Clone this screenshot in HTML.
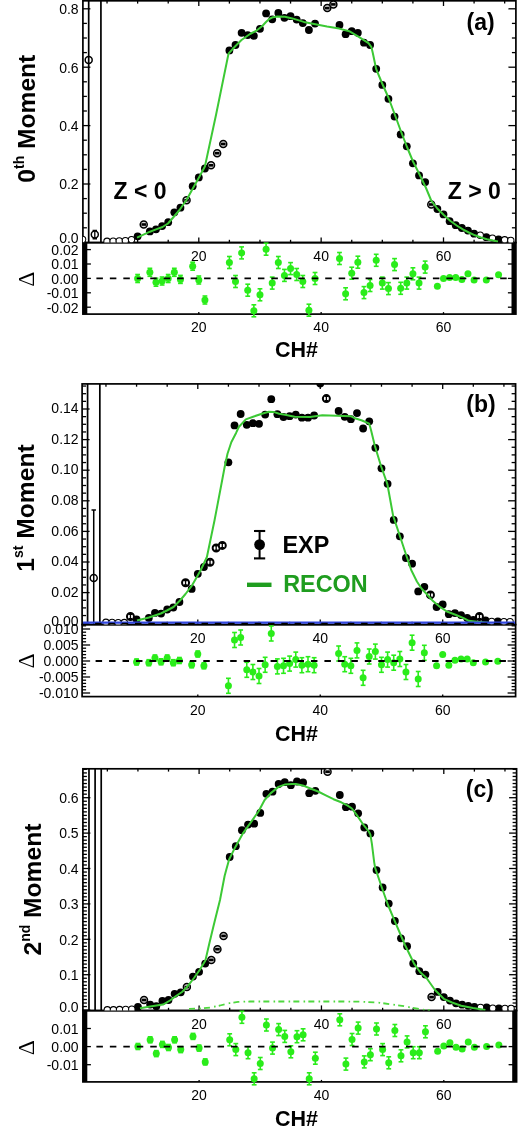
<!DOCTYPE html>
<html><head><meta charset="utf-8"><title>Moments</title>
<style>html,body{margin:0;padding:0;background:#fff;width:520px;height:1128px;overflow:hidden}svg{display:block}</style>
</head><body>
<svg width="520" height="1128" viewBox="0 0 520 1128">
<rect width="520" height="1128" fill="#fff"/>
<defs>
<clipPath id="cA"><rect x="82.9" y="0.8" width="433" height="241.8"/></clipPath>
<clipPath id="cB"><rect x="82.1" y="383.9" width="433.5" height="240.7"/></clipPath>
<clipPath id="cC"><rect x="82.9" y="768.8" width="433.7" height="241.8"/></clipPath>
</defs>
<line x1="107.04" y1="0.8" x2="107.04" y2="3.6" stroke="#000" stroke-width="1.3" />
<line x1="107.04" y1="242.6" x2="107.04" y2="239.8" stroke="#000" stroke-width="1.3" />
<line x1="137.62" y1="0.8" x2="137.62" y2="3.6" stroke="#000" stroke-width="1.3" />
<line x1="137.62" y1="242.6" x2="137.62" y2="239.8" stroke="#000" stroke-width="1.3" />
<line x1="168.21" y1="0.8" x2="168.21" y2="3.6" stroke="#000" stroke-width="1.3" />
<line x1="168.21" y1="242.6" x2="168.21" y2="239.8" stroke="#000" stroke-width="1.3" />
<line x1="198.8" y1="0.8" x2="198.8" y2="6" stroke="#000" stroke-width="1.3" />
<line x1="198.8" y1="242.6" x2="198.8" y2="237.4" stroke="#000" stroke-width="1.3" />
<line x1="198.8" y1="314.1" x2="198.8" y2="312.1" stroke="#000" stroke-width="1.3" />
<line x1="229.39" y1="0.8" x2="229.39" y2="3.6" stroke="#000" stroke-width="1.3" />
<line x1="229.39" y1="242.6" x2="229.39" y2="239.8" stroke="#000" stroke-width="1.3" />
<line x1="259.97" y1="0.8" x2="259.97" y2="3.6" stroke="#000" stroke-width="1.3" />
<line x1="259.97" y1="242.6" x2="259.97" y2="239.8" stroke="#000" stroke-width="1.3" />
<line x1="290.56" y1="0.8" x2="290.56" y2="3.6" stroke="#000" stroke-width="1.3" />
<line x1="290.56" y1="242.6" x2="290.56" y2="239.8" stroke="#000" stroke-width="1.3" />
<line x1="321.15" y1="0.8" x2="321.15" y2="6" stroke="#000" stroke-width="1.3" />
<line x1="321.15" y1="242.6" x2="321.15" y2="237.4" stroke="#000" stroke-width="1.3" />
<line x1="321.15" y1="314.1" x2="321.15" y2="312.1" stroke="#000" stroke-width="1.3" />
<line x1="351.74" y1="0.8" x2="351.74" y2="3.6" stroke="#000" stroke-width="1.3" />
<line x1="351.74" y1="242.6" x2="351.74" y2="239.8" stroke="#000" stroke-width="1.3" />
<line x1="382.32" y1="0.8" x2="382.32" y2="3.6" stroke="#000" stroke-width="1.3" />
<line x1="382.32" y1="242.6" x2="382.32" y2="239.8" stroke="#000" stroke-width="1.3" />
<line x1="412.91" y1="0.8" x2="412.91" y2="3.6" stroke="#000" stroke-width="1.3" />
<line x1="412.91" y1="242.6" x2="412.91" y2="239.8" stroke="#000" stroke-width="1.3" />
<line x1="443.5" y1="0.8" x2="443.5" y2="6" stroke="#000" stroke-width="1.3" />
<line x1="443.5" y1="242.6" x2="443.5" y2="237.4" stroke="#000" stroke-width="1.3" />
<line x1="443.5" y1="314.1" x2="443.5" y2="312.1" stroke="#000" stroke-width="1.3" />
<line x1="474.09" y1="0.8" x2="474.09" y2="3.6" stroke="#000" stroke-width="1.3" />
<line x1="474.09" y1="242.6" x2="474.09" y2="239.8" stroke="#000" stroke-width="1.3" />
<line x1="504.67" y1="0.8" x2="504.67" y2="3.6" stroke="#000" stroke-width="1.3" />
<line x1="504.67" y1="242.6" x2="504.67" y2="239.8" stroke="#000" stroke-width="1.3" />
<line x1="82.9" y1="227.8" x2="86.9" y2="227.8" stroke="#000" stroke-width="1.3" />
<line x1="515.9" y1="227.8" x2="511.9" y2="227.8" stroke="#000" stroke-width="1.3" />
<line x1="82.9" y1="213.2" x2="86.9" y2="213.2" stroke="#000" stroke-width="1.3" />
<line x1="515.9" y1="213.2" x2="511.9" y2="213.2" stroke="#000" stroke-width="1.3" />
<line x1="82.9" y1="198.6" x2="86.9" y2="198.6" stroke="#000" stroke-width="1.3" />
<line x1="515.9" y1="198.6" x2="511.9" y2="198.6" stroke="#000" stroke-width="1.3" />
<line x1="82.9" y1="184" x2="90.4" y2="184" stroke="#000" stroke-width="1.3" />
<line x1="515.9" y1="184" x2="508.4" y2="184" stroke="#000" stroke-width="1.3" />
<line x1="82.9" y1="169.4" x2="86.9" y2="169.4" stroke="#000" stroke-width="1.3" />
<line x1="515.9" y1="169.4" x2="511.9" y2="169.4" stroke="#000" stroke-width="1.3" />
<line x1="82.9" y1="154.8" x2="86.9" y2="154.8" stroke="#000" stroke-width="1.3" />
<line x1="515.9" y1="154.8" x2="511.9" y2="154.8" stroke="#000" stroke-width="1.3" />
<line x1="82.9" y1="140.2" x2="86.9" y2="140.2" stroke="#000" stroke-width="1.3" />
<line x1="515.9" y1="140.2" x2="511.9" y2="140.2" stroke="#000" stroke-width="1.3" />
<line x1="82.9" y1="125.6" x2="90.4" y2="125.6" stroke="#000" stroke-width="1.3" />
<line x1="515.9" y1="125.6" x2="508.4" y2="125.6" stroke="#000" stroke-width="1.3" />
<line x1="82.9" y1="111" x2="86.9" y2="111" stroke="#000" stroke-width="1.3" />
<line x1="515.9" y1="111" x2="511.9" y2="111" stroke="#000" stroke-width="1.3" />
<line x1="82.9" y1="96.4" x2="86.9" y2="96.4" stroke="#000" stroke-width="1.3" />
<line x1="515.9" y1="96.4" x2="511.9" y2="96.4" stroke="#000" stroke-width="1.3" />
<line x1="82.9" y1="81.8" x2="86.9" y2="81.8" stroke="#000" stroke-width="1.3" />
<line x1="515.9" y1="81.8" x2="511.9" y2="81.8" stroke="#000" stroke-width="1.3" />
<line x1="82.9" y1="67.2" x2="90.4" y2="67.2" stroke="#000" stroke-width="1.3" />
<line x1="515.9" y1="67.2" x2="508.4" y2="67.2" stroke="#000" stroke-width="1.3" />
<line x1="82.9" y1="52.6" x2="86.9" y2="52.6" stroke="#000" stroke-width="1.3" />
<line x1="515.9" y1="52.6" x2="511.9" y2="52.6" stroke="#000" stroke-width="1.3" />
<line x1="82.9" y1="38" x2="86.9" y2="38" stroke="#000" stroke-width="1.3" />
<line x1="515.9" y1="38" x2="511.9" y2="38" stroke="#000" stroke-width="1.3" />
<line x1="82.9" y1="23.4" x2="86.9" y2="23.4" stroke="#000" stroke-width="1.3" />
<line x1="515.9" y1="23.4" x2="511.9" y2="23.4" stroke="#000" stroke-width="1.3" />
<line x1="82.9" y1="8.8" x2="90.4" y2="8.8" stroke="#000" stroke-width="1.3" />
<line x1="515.9" y1="8.8" x2="508.4" y2="8.8" stroke="#000" stroke-width="1.3" />
<rect x="82.9" y="242.6" width="4.4" height="71.5" fill="#000"/>
<rect x="511.5" y="242.6" width="4.4" height="71.5" fill="#000"/>
<line x1="82.9" y1="307.2" x2="90.9" y2="307.2" stroke="#000" stroke-width="1.3" />
<line x1="515.9" y1="307.2" x2="507.9" y2="307.2" stroke="#000" stroke-width="1.3" />
<line x1="82.9" y1="292.8" x2="90.9" y2="292.8" stroke="#000" stroke-width="1.3" />
<line x1="515.9" y1="292.8" x2="507.9" y2="292.8" stroke="#000" stroke-width="1.3" />
<line x1="82.9" y1="278.4" x2="90.9" y2="278.4" stroke="#000" stroke-width="1.3" />
<line x1="515.9" y1="278.4" x2="507.9" y2="278.4" stroke="#000" stroke-width="1.3" />
<line x1="82.9" y1="264" x2="90.9" y2="264" stroke="#000" stroke-width="1.3" />
<line x1="515.9" y1="264" x2="507.9" y2="264" stroke="#000" stroke-width="1.3" />
<line x1="82.9" y1="249.6" x2="90.9" y2="249.6" stroke="#000" stroke-width="1.3" />
<line x1="515.9" y1="249.6" x2="507.9" y2="249.6" stroke="#000" stroke-width="1.3" />
<text x="78.6" y="242.9" font-family="Liberation Sans, Arial, sans-serif" font-size="14" font-weight="normal" text-anchor="end" fill="#000" >0.0</text>
<text x="78.6" y="189.3" font-family="Liberation Sans, Arial, sans-serif" font-size="14" font-weight="normal" text-anchor="end" fill="#000" >0.2</text>
<text x="78.6" y="130.9" font-family="Liberation Sans, Arial, sans-serif" font-size="14" font-weight="normal" text-anchor="end" fill="#000" >0.4</text>
<text x="78.6" y="72.5" font-family="Liberation Sans, Arial, sans-serif" font-size="14" font-weight="normal" text-anchor="end" fill="#000" >0.6</text>
<text x="78.6" y="14.1" font-family="Liberation Sans, Arial, sans-serif" font-size="14" font-weight="normal" text-anchor="end" fill="#000" >0.8</text>
<text x="78.6" y="254.9" font-family="Liberation Sans, Arial, sans-serif" font-size="14" font-weight="normal" text-anchor="end" fill="#000" >0.02</text>
<text x="78.6" y="269.3" font-family="Liberation Sans, Arial, sans-serif" font-size="14" font-weight="normal" text-anchor="end" fill="#000" >0.01</text>
<text x="78.6" y="283.7" font-family="Liberation Sans, Arial, sans-serif" font-size="14" font-weight="normal" text-anchor="end" fill="#000" >0.00</text>
<text x="78.6" y="298.1" font-family="Liberation Sans, Arial, sans-serif" font-size="14" font-weight="normal" text-anchor="end" fill="#000" >-0.01</text>
<text x="78.6" y="312.5" font-family="Liberation Sans, Arial, sans-serif" font-size="14" font-weight="normal" text-anchor="end" fill="#000" >-0.02</text>
<text x="198.8" y="260.6" font-family="Liberation Sans, Arial, sans-serif" font-size="14" font-weight="normal" text-anchor="middle" fill="#000" >20</text>
<text x="198.8" y="332.1" font-family="Liberation Sans, Arial, sans-serif" font-size="14" font-weight="normal" text-anchor="middle" fill="#000" >20</text>
<text x="321.15" y="260.6" font-family="Liberation Sans, Arial, sans-serif" font-size="14" font-weight="normal" text-anchor="middle" fill="#000" >40</text>
<text x="321.15" y="332.1" font-family="Liberation Sans, Arial, sans-serif" font-size="14" font-weight="normal" text-anchor="middle" fill="#000" >40</text>
<text x="443.5" y="260.6" font-family="Liberation Sans, Arial, sans-serif" font-size="14" font-weight="normal" text-anchor="middle" fill="#000" >60</text>
<text x="443.5" y="332.1" font-family="Liberation Sans, Arial, sans-serif" font-size="14" font-weight="normal" text-anchor="middle" fill="#000" >60</text>
<rect x="82.9" y="0.8" width="433" height="241.8" fill="none" stroke="#000" stroke-width="1.7"/>
<rect x="82.9" y="242.6" width="433" height="71.5" fill="none" stroke="#000" stroke-width="1.7"/>
<text x="296.5" y="357.1" font-family="Liberation Sans, Arial, sans-serif" font-size="21.5" font-weight="bold" text-anchor="middle" fill="#000" >CH#</text>
<g clip-path="url(#cA)">
<line x1="88.69" y1="0" x2="88.69" y2="242.6" stroke="#000" stroke-width="1.7" />
<line x1="100.92" y1="0" x2="100.92" y2="242.6" stroke="#000" stroke-width="1.7" />
<circle cx="137.62" cy="236.3" r="3.9" fill="#000"/>
<circle cx="149.86" cy="231.4" r="3.9" fill="#000"/>
<circle cx="155.98" cy="229.3" r="3.9" fill="#000"/>
<circle cx="162.09" cy="226.1" r="3.9" fill="#000"/>
<circle cx="168.21" cy="222.2" r="3.9" fill="#000"/>
<circle cx="174.33" cy="212.3" r="3.9" fill="#000"/>
<circle cx="180.45" cy="207.7" r="3.9" fill="#000"/>
<circle cx="192.68" cy="186.2" r="3.9" fill="#000"/>
<circle cx="198.8" cy="177.4" r="3.9" fill="#000"/>
<circle cx="204.92" cy="168.5" r="3.9" fill="#000"/>
<circle cx="229.39" cy="50.4" r="3.9" fill="#000"/>
<circle cx="235.5" cy="45" r="3.9" fill="#000"/>
<circle cx="241.62" cy="32.8" r="3.9" fill="#000"/>
<circle cx="247.74" cy="35.1" r="3.9" fill="#000"/>
<circle cx="253.86" cy="35.8" r="3.9" fill="#000"/>
<circle cx="259.97" cy="28.8" r="3.9" fill="#000"/>
<circle cx="266.09" cy="13.4" r="3.9" fill="#000"/>
<circle cx="272.21" cy="19.3" r="3.9" fill="#000"/>
<circle cx="278.33" cy="12.9" r="3.9" fill="#000"/>
<circle cx="284.44" cy="17.8" r="3.9" fill="#000"/>
<circle cx="290.56" cy="16.2" r="3.9" fill="#000"/>
<circle cx="296.68" cy="19.6" r="3.9" fill="#000"/>
<circle cx="302.8" cy="23.1" r="3.9" fill="#000"/>
<circle cx="308.91" cy="30" r="3.9" fill="#000"/>
<circle cx="315.03" cy="23.6" r="3.9" fill="#000"/>
<circle cx="339.5" cy="25" r="3.9" fill="#000"/>
<circle cx="345.62" cy="34.2" r="3.9" fill="#000"/>
<circle cx="351.74" cy="31.2" r="3.9" fill="#000"/>
<circle cx="357.85" cy="32.8" r="3.9" fill="#000"/>
<circle cx="363.97" cy="42.7" r="3.9" fill="#000"/>
<circle cx="370.09" cy="45" r="3.9" fill="#000"/>
<circle cx="376.21" cy="68.8" r="3.9" fill="#000"/>
<circle cx="382.32" cy="84.9" r="3.9" fill="#000"/>
<circle cx="388.44" cy="98.8" r="3.9" fill="#000"/>
<circle cx="394.56" cy="116.6" r="3.9" fill="#000"/>
<circle cx="400.68" cy="134.5" r="3.9" fill="#000"/>
<circle cx="406.79" cy="146.3" r="3.9" fill="#000"/>
<circle cx="412.91" cy="163.3" r="3.9" fill="#000"/>
<circle cx="419.03" cy="175.4" r="3.9" fill="#000"/>
<circle cx="425.15" cy="182.1" r="3.9" fill="#000"/>
<circle cx="437.38" cy="209" r="3.9" fill="#000"/>
<circle cx="443.5" cy="214.4" r="3.9" fill="#000"/>
<circle cx="449.62" cy="221.2" r="3.9" fill="#000"/>
<circle cx="455.73" cy="225.2" r="3.9" fill="#000"/>
<circle cx="461.85" cy="228" r="3.9" fill="#000"/>
<circle cx="467.97" cy="230.6" r="3.9" fill="#000"/>
<circle cx="474.09" cy="233.7" r="3.9" fill="#000"/>
<circle cx="486.32" cy="237.2" r="3.9" fill="#000"/>
<circle cx="498.56" cy="239.3" r="3.9" fill="#000"/>
<circle cx="143.74" cy="224.5" r="3.5" fill="#d6d6d6" stroke="#000" stroke-width="1.5"/>
<rect x="141.44" y="223.2" width="4.6" height="2.6" fill="#000"/>
<circle cx="186.56" cy="200.3" r="3.5" fill="#d6d6d6" stroke="#000" stroke-width="1.5"/>
<rect x="184.26" y="199" width="4.6" height="2.6" fill="#000"/>
<circle cx="211.03" cy="165.3" r="3.5" fill="#d6d6d6" stroke="#000" stroke-width="1.5"/>
<rect x="208.73" y="164" width="4.6" height="2.6" fill="#000"/>
<circle cx="217.15" cy="153.2" r="3.5" fill="#d6d6d6" stroke="#000" stroke-width="1.5"/>
<rect x="214.85" y="151.9" width="4.6" height="2.6" fill="#000"/>
<circle cx="223.27" cy="144" r="3.5" fill="#d6d6d6" stroke="#000" stroke-width="1.5"/>
<rect x="220.97" y="142.7" width="4.6" height="2.6" fill="#000"/>
<circle cx="327.27" cy="8.1" r="3.5" fill="#d6d6d6" stroke="#000" stroke-width="1.5"/>
<rect x="324.97" y="6.8" width="4.6" height="2.6" fill="#000"/>
<circle cx="333.38" cy="4.4" r="3.5" fill="#d6d6d6" stroke="#000" stroke-width="1.5"/>
<rect x="331.08" y="3.1" width="4.6" height="2.6" fill="#000"/>
<circle cx="431.26" cy="204.5" r="3.5" fill="#d6d6d6" stroke="#000" stroke-width="1.5"/>
<rect x="428.96" y="203.2" width="4.6" height="2.6" fill="#000"/>
<circle cx="82.57" cy="239.5" r="3.2" fill="#fff" stroke="#000" stroke-width="1.05"/>
<circle cx="107.04" cy="241.3" r="3.2" fill="#fff" stroke="#000" stroke-width="1.05"/>
<circle cx="113.16" cy="241.2" r="3.2" fill="#fff" stroke="#000" stroke-width="1.05"/>
<circle cx="119.27" cy="241" r="3.2" fill="#fff" stroke="#000" stroke-width="1.05"/>
<circle cx="125.39" cy="240.6" r="3.2" fill="#fff" stroke="#000" stroke-width="1.05"/>
<circle cx="131.51" cy="239.6" r="3.2" fill="#fff" stroke="#000" stroke-width="1.05"/>
<circle cx="480.2" cy="235.2" r="3.2" fill="#fff" stroke="#000" stroke-width="1.05"/>
<circle cx="492.44" cy="238.1" r="3.2" fill="#fff" stroke="#000" stroke-width="1.05"/>
<circle cx="504.67" cy="239.8" r="3.2" fill="#fff" stroke="#000" stroke-width="1.05"/>
<circle cx="510.79" cy="240.4" r="3.2" fill="#fff" stroke="#000" stroke-width="1.05"/>
<circle cx="94.8" cy="234.6" r="3.5" fill="#fff" stroke="#000" stroke-width="1.5"/>
<line x1="94.8" y1="230.4" x2="94.8" y2="238.8" stroke="#000" stroke-width="1.3" />
<line x1="92.6" y1="230.4" x2="97" y2="230.4" stroke="#000" stroke-width="1.4" />
<line x1="92.6" y1="238.8" x2="97" y2="238.8" stroke="#000" stroke-width="1.4" />
<circle cx="88.69" cy="60.1" r="3.5" fill="none" stroke="#000" stroke-width="1.5"/>
<path d="M137,237.6 L143.5,234.6 L150,231.7 L156,229.4 L162.5,227 L168,223.5 L174,216.5 L179.5,210 L186.5,200 L192.8,188.5 L198.7,178 L204.9,166.5 L216.1,114.5 L228.5,53.7 L235,46.5 L241.5,40 L250,34 L256,31 L262.3,26 L266,22 L269.2,19 L273,17.2 L277.3,16.4 L285,16.8 L292.3,18.4 L303.8,21.9 L315.4,24.2 L327,26.6 L339.2,28.6 L349.2,31.2 L358.8,36.8 L368.5,43.2 L371.3,46.8 L372.8,53 L376.2,69.2 L382.4,84 L388.4,97.5 L394.6,114 L401,131.5 L407,147 L413,161.5 L419.3,174 L425.8,187.5 L431.2,200.5 L437.3,208.5 L443.8,215 L450.5,221 L456.7,225.5 L462.9,229.3 L468.8,232.5 L475,235.3 L481,237.5 L487,239.3 L493,240.6 L498,241.5" fill="none" stroke="#3cc935" stroke-width="2.0" stroke-linejoin="round" />
</g>
<line x1="137.62" y1="274.5" x2="137.62" y2="282.5" stroke="#2aec1a" stroke-width="1.6" />
<line x1="135.22" y1="274.5" x2="140.03" y2="274.5" stroke="#2aec1a" stroke-width="1.6" />
<line x1="135.22" y1="282.5" x2="140.03" y2="282.5" stroke="#2aec1a" stroke-width="1.6" />
<circle cx="137.62" cy="278.5" r="3.5" fill="#2aec1a"/>
<line x1="149.86" y1="268.3" x2="149.86" y2="276.3" stroke="#2aec1a" stroke-width="1.6" />
<line x1="147.46" y1="268.3" x2="152.26" y2="268.3" stroke="#2aec1a" stroke-width="1.6" />
<line x1="147.46" y1="276.3" x2="152.26" y2="276.3" stroke="#2aec1a" stroke-width="1.6" />
<circle cx="149.86" cy="272.3" r="3.5" fill="#2aec1a"/>
<line x1="155.98" y1="278.2" x2="155.98" y2="286.2" stroke="#2aec1a" stroke-width="1.6" />
<line x1="153.58" y1="278.2" x2="158.38" y2="278.2" stroke="#2aec1a" stroke-width="1.6" />
<line x1="153.58" y1="286.2" x2="158.38" y2="286.2" stroke="#2aec1a" stroke-width="1.6" />
<circle cx="155.98" cy="282.2" r="3.5" fill="#2aec1a"/>
<line x1="162.09" y1="277" x2="162.09" y2="285" stroke="#2aec1a" stroke-width="1.6" />
<line x1="159.69" y1="277" x2="164.5" y2="277" stroke="#2aec1a" stroke-width="1.6" />
<line x1="159.69" y1="285" x2="164.5" y2="285" stroke="#2aec1a" stroke-width="1.6" />
<circle cx="162.09" cy="281" r="3.5" fill="#2aec1a"/>
<line x1="168.21" y1="274.5" x2="168.21" y2="282.5" stroke="#2aec1a" stroke-width="1.6" />
<line x1="165.81" y1="274.5" x2="170.61" y2="274.5" stroke="#2aec1a" stroke-width="1.6" />
<line x1="165.81" y1="282.5" x2="170.61" y2="282.5" stroke="#2aec1a" stroke-width="1.6" />
<circle cx="168.21" cy="278.5" r="3.5" fill="#2aec1a"/>
<line x1="174.33" y1="268.3" x2="174.33" y2="276.3" stroke="#2aec1a" stroke-width="1.6" />
<line x1="171.93" y1="268.3" x2="176.73" y2="268.3" stroke="#2aec1a" stroke-width="1.6" />
<line x1="171.93" y1="276.3" x2="176.73" y2="276.3" stroke="#2aec1a" stroke-width="1.6" />
<circle cx="174.33" cy="272.3" r="3.5" fill="#2aec1a"/>
<line x1="180.45" y1="275.4" x2="180.45" y2="283.4" stroke="#2aec1a" stroke-width="1.6" />
<line x1="178.05" y1="275.4" x2="182.85" y2="275.4" stroke="#2aec1a" stroke-width="1.6" />
<line x1="178.05" y1="283.4" x2="182.85" y2="283.4" stroke="#2aec1a" stroke-width="1.6" />
<circle cx="180.45" cy="279.4" r="3.5" fill="#2aec1a"/>
<line x1="192.68" y1="262.2" x2="192.68" y2="270.2" stroke="#2aec1a" stroke-width="1.6" />
<line x1="190.28" y1="262.2" x2="195.08" y2="262.2" stroke="#2aec1a" stroke-width="1.6" />
<line x1="190.28" y1="270.2" x2="195.08" y2="270.2" stroke="#2aec1a" stroke-width="1.6" />
<circle cx="192.68" cy="266.2" r="3.5" fill="#2aec1a"/>
<line x1="198.8" y1="276" x2="198.8" y2="284" stroke="#2aec1a" stroke-width="1.6" />
<line x1="196.4" y1="276" x2="201.2" y2="276" stroke="#2aec1a" stroke-width="1.6" />
<line x1="196.4" y1="284" x2="201.2" y2="284" stroke="#2aec1a" stroke-width="1.6" />
<circle cx="198.8" cy="280" r="3.5" fill="#2aec1a"/>
<line x1="204.92" y1="296" x2="204.92" y2="304" stroke="#2aec1a" stroke-width="1.6" />
<line x1="202.52" y1="296" x2="207.32" y2="296" stroke="#2aec1a" stroke-width="1.6" />
<line x1="202.52" y1="304" x2="207.32" y2="304" stroke="#2aec1a" stroke-width="1.6" />
<circle cx="204.92" cy="300" r="3.5" fill="#2aec1a"/>
<line x1="229.39" y1="256.5" x2="229.39" y2="268.5" stroke="#2aec1a" stroke-width="1.6" />
<line x1="226.99" y1="256.5" x2="231.79" y2="256.5" stroke="#2aec1a" stroke-width="1.6" />
<line x1="226.99" y1="268.5" x2="231.79" y2="268.5" stroke="#2aec1a" stroke-width="1.6" />
<circle cx="229.39" cy="262.5" r="3.5" fill="#2aec1a"/>
<line x1="235.5" y1="275.5" x2="235.5" y2="287.5" stroke="#2aec1a" stroke-width="1.6" />
<line x1="233.1" y1="275.5" x2="237.91" y2="275.5" stroke="#2aec1a" stroke-width="1.6" />
<line x1="233.1" y1="287.5" x2="237.91" y2="287.5" stroke="#2aec1a" stroke-width="1.6" />
<circle cx="235.5" cy="281.5" r="3.5" fill="#2aec1a"/>
<line x1="241.62" y1="246.9" x2="241.62" y2="258.9" stroke="#2aec1a" stroke-width="1.6" />
<line x1="239.22" y1="246.9" x2="244.02" y2="246.9" stroke="#2aec1a" stroke-width="1.6" />
<line x1="239.22" y1="258.9" x2="244.02" y2="258.9" stroke="#2aec1a" stroke-width="1.6" />
<circle cx="241.62" cy="252.9" r="3.5" fill="#2aec1a"/>
<line x1="247.74" y1="284.2" x2="247.74" y2="296.2" stroke="#2aec1a" stroke-width="1.6" />
<line x1="245.34" y1="284.2" x2="250.14" y2="284.2" stroke="#2aec1a" stroke-width="1.6" />
<line x1="245.34" y1="296.2" x2="250.14" y2="296.2" stroke="#2aec1a" stroke-width="1.6" />
<circle cx="247.74" cy="290.2" r="3.5" fill="#2aec1a"/>
<line x1="253.86" y1="304.8" x2="253.86" y2="316.8" stroke="#2aec1a" stroke-width="1.6" />
<line x1="251.46" y1="304.8" x2="256.26" y2="304.8" stroke="#2aec1a" stroke-width="1.6" />
<line x1="251.46" y1="316.8" x2="256.26" y2="316.8" stroke="#2aec1a" stroke-width="1.6" />
<circle cx="253.86" cy="310.8" r="3.5" fill="#2aec1a"/>
<line x1="259.97" y1="288.8" x2="259.97" y2="300.8" stroke="#2aec1a" stroke-width="1.6" />
<line x1="257.57" y1="288.8" x2="262.37" y2="288.8" stroke="#2aec1a" stroke-width="1.6" />
<line x1="257.57" y1="300.8" x2="262.37" y2="300.8" stroke="#2aec1a" stroke-width="1.6" />
<circle cx="259.97" cy="294.8" r="3.5" fill="#2aec1a"/>
<line x1="266.09" y1="243.2" x2="266.09" y2="255.2" stroke="#2aec1a" stroke-width="1.6" />
<line x1="263.69" y1="243.2" x2="268.49" y2="243.2" stroke="#2aec1a" stroke-width="1.6" />
<line x1="263.69" y1="255.2" x2="268.49" y2="255.2" stroke="#2aec1a" stroke-width="1.6" />
<circle cx="266.09" cy="249.2" r="3.5" fill="#2aec1a"/>
<line x1="272.21" y1="277.1" x2="272.21" y2="289.1" stroke="#2aec1a" stroke-width="1.6" />
<line x1="269.81" y1="277.1" x2="274.61" y2="277.1" stroke="#2aec1a" stroke-width="1.6" />
<line x1="269.81" y1="289.1" x2="274.61" y2="289.1" stroke="#2aec1a" stroke-width="1.6" />
<circle cx="272.21" cy="283.1" r="3.5" fill="#2aec1a"/>
<line x1="278.33" y1="256.5" x2="278.33" y2="268.5" stroke="#2aec1a" stroke-width="1.6" />
<line x1="275.93" y1="256.5" x2="280.73" y2="256.5" stroke="#2aec1a" stroke-width="1.6" />
<line x1="275.93" y1="268.5" x2="280.73" y2="268.5" stroke="#2aec1a" stroke-width="1.6" />
<circle cx="278.33" cy="262.5" r="3.5" fill="#2aec1a"/>
<line x1="284.44" y1="269.4" x2="284.44" y2="281.4" stroke="#2aec1a" stroke-width="1.6" />
<line x1="282.05" y1="269.4" x2="286.84" y2="269.4" stroke="#2aec1a" stroke-width="1.6" />
<line x1="282.05" y1="281.4" x2="286.84" y2="281.4" stroke="#2aec1a" stroke-width="1.6" />
<circle cx="284.44" cy="275.4" r="3.5" fill="#2aec1a"/>
<line x1="290.56" y1="262.6" x2="290.56" y2="274.6" stroke="#2aec1a" stroke-width="1.6" />
<line x1="288.16" y1="262.6" x2="292.96" y2="262.6" stroke="#2aec1a" stroke-width="1.6" />
<line x1="288.16" y1="274.6" x2="292.96" y2="274.6" stroke="#2aec1a" stroke-width="1.6" />
<circle cx="290.56" cy="268.6" r="3.5" fill="#2aec1a"/>
<line x1="296.68" y1="268.5" x2="296.68" y2="280.5" stroke="#2aec1a" stroke-width="1.6" />
<line x1="294.28" y1="268.5" x2="299.08" y2="268.5" stroke="#2aec1a" stroke-width="1.6" />
<line x1="294.28" y1="280.5" x2="299.08" y2="280.5" stroke="#2aec1a" stroke-width="1.6" />
<circle cx="296.68" cy="274.5" r="3.5" fill="#2aec1a"/>
<line x1="302.8" y1="275.5" x2="302.8" y2="287.5" stroke="#2aec1a" stroke-width="1.6" />
<line x1="300.4" y1="275.5" x2="305.2" y2="275.5" stroke="#2aec1a" stroke-width="1.6" />
<line x1="300.4" y1="287.5" x2="305.2" y2="287.5" stroke="#2aec1a" stroke-width="1.6" />
<circle cx="302.8" cy="281.5" r="3.5" fill="#2aec1a"/>
<line x1="308.91" y1="304.2" x2="308.91" y2="316.2" stroke="#2aec1a" stroke-width="1.6" />
<line x1="306.51" y1="304.2" x2="311.31" y2="304.2" stroke="#2aec1a" stroke-width="1.6" />
<line x1="306.51" y1="316.2" x2="311.31" y2="316.2" stroke="#2aec1a" stroke-width="1.6" />
<circle cx="308.91" cy="310.2" r="3.5" fill="#2aec1a"/>
<line x1="315.03" y1="272.5" x2="315.03" y2="284.5" stroke="#2aec1a" stroke-width="1.6" />
<line x1="312.63" y1="272.5" x2="317.43" y2="272.5" stroke="#2aec1a" stroke-width="1.6" />
<line x1="312.63" y1="284.5" x2="317.43" y2="284.5" stroke="#2aec1a" stroke-width="1.6" />
<circle cx="315.03" cy="278.5" r="3.5" fill="#2aec1a"/>
<line x1="339.5" y1="252.5" x2="339.5" y2="264.5" stroke="#2aec1a" stroke-width="1.6" />
<line x1="337.1" y1="252.5" x2="341.9" y2="252.5" stroke="#2aec1a" stroke-width="1.6" />
<line x1="337.1" y1="264.5" x2="341.9" y2="264.5" stroke="#2aec1a" stroke-width="1.6" />
<circle cx="339.5" cy="258.5" r="3.5" fill="#2aec1a"/>
<line x1="345.62" y1="287.8" x2="345.62" y2="299.8" stroke="#2aec1a" stroke-width="1.6" />
<line x1="343.22" y1="287.8" x2="348.02" y2="287.8" stroke="#2aec1a" stroke-width="1.6" />
<line x1="343.22" y1="299.8" x2="348.02" y2="299.8" stroke="#2aec1a" stroke-width="1.6" />
<circle cx="345.62" cy="293.8" r="3.5" fill="#2aec1a"/>
<line x1="351.74" y1="267.2" x2="351.74" y2="279.2" stroke="#2aec1a" stroke-width="1.6" />
<line x1="349.34" y1="267.2" x2="354.14" y2="267.2" stroke="#2aec1a" stroke-width="1.6" />
<line x1="349.34" y1="279.2" x2="354.14" y2="279.2" stroke="#2aec1a" stroke-width="1.6" />
<circle cx="351.74" cy="273.2" r="3.5" fill="#2aec1a"/>
<line x1="357.85" y1="256.2" x2="357.85" y2="268.2" stroke="#2aec1a" stroke-width="1.6" />
<line x1="355.45" y1="256.2" x2="360.25" y2="256.2" stroke="#2aec1a" stroke-width="1.6" />
<line x1="355.45" y1="268.2" x2="360.25" y2="268.2" stroke="#2aec1a" stroke-width="1.6" />
<circle cx="357.85" cy="262.2" r="3.5" fill="#2aec1a"/>
<line x1="363.97" y1="286.6" x2="363.97" y2="298.6" stroke="#2aec1a" stroke-width="1.6" />
<line x1="361.57" y1="286.6" x2="366.37" y2="286.6" stroke="#2aec1a" stroke-width="1.6" />
<line x1="361.57" y1="298.6" x2="366.37" y2="298.6" stroke="#2aec1a" stroke-width="1.6" />
<circle cx="363.97" cy="292.6" r="3.5" fill="#2aec1a"/>
<line x1="370.09" y1="279.5" x2="370.09" y2="291.5" stroke="#2aec1a" stroke-width="1.6" />
<line x1="367.69" y1="279.5" x2="372.49" y2="279.5" stroke="#2aec1a" stroke-width="1.6" />
<line x1="367.69" y1="291.5" x2="372.49" y2="291.5" stroke="#2aec1a" stroke-width="1.6" />
<circle cx="370.09" cy="285.5" r="3.5" fill="#2aec1a"/>
<line x1="376.21" y1="254.3" x2="376.21" y2="266.3" stroke="#2aec1a" stroke-width="1.6" />
<line x1="373.81" y1="254.3" x2="378.61" y2="254.3" stroke="#2aec1a" stroke-width="1.6" />
<line x1="373.81" y1="266.3" x2="378.61" y2="266.3" stroke="#2aec1a" stroke-width="1.6" />
<circle cx="376.21" cy="260.3" r="3.5" fill="#2aec1a"/>
<line x1="382.32" y1="277.1" x2="382.32" y2="289.1" stroke="#2aec1a" stroke-width="1.6" />
<line x1="379.93" y1="277.1" x2="384.72" y2="277.1" stroke="#2aec1a" stroke-width="1.6" />
<line x1="379.93" y1="289.1" x2="384.72" y2="289.1" stroke="#2aec1a" stroke-width="1.6" />
<circle cx="382.32" cy="283.1" r="3.5" fill="#2aec1a"/>
<line x1="388.44" y1="282.6" x2="388.44" y2="294.6" stroke="#2aec1a" stroke-width="1.6" />
<line x1="386.04" y1="282.6" x2="390.84" y2="282.6" stroke="#2aec1a" stroke-width="1.6" />
<line x1="386.04" y1="294.6" x2="390.84" y2="294.6" stroke="#2aec1a" stroke-width="1.6" />
<circle cx="388.44" cy="288.6" r="3.5" fill="#2aec1a"/>
<line x1="394.56" y1="258.6" x2="394.56" y2="270.6" stroke="#2aec1a" stroke-width="1.6" />
<line x1="392.16" y1="258.6" x2="396.96" y2="258.6" stroke="#2aec1a" stroke-width="1.6" />
<line x1="392.16" y1="270.6" x2="396.96" y2="270.6" stroke="#2aec1a" stroke-width="1.6" />
<circle cx="394.56" cy="264.6" r="3.5" fill="#2aec1a"/>
<line x1="400.68" y1="282.3" x2="400.68" y2="294.3" stroke="#2aec1a" stroke-width="1.6" />
<line x1="398.28" y1="282.3" x2="403.08" y2="282.3" stroke="#2aec1a" stroke-width="1.6" />
<line x1="398.28" y1="294.3" x2="403.08" y2="294.3" stroke="#2aec1a" stroke-width="1.6" />
<circle cx="400.68" cy="288.3" r="3.5" fill="#2aec1a"/>
<line x1="406.79" y1="277.1" x2="406.79" y2="289.1" stroke="#2aec1a" stroke-width="1.6" />
<line x1="404.39" y1="277.1" x2="409.19" y2="277.1" stroke="#2aec1a" stroke-width="1.6" />
<line x1="404.39" y1="289.1" x2="409.19" y2="289.1" stroke="#2aec1a" stroke-width="1.6" />
<circle cx="406.79" cy="283.1" r="3.5" fill="#2aec1a"/>
<line x1="412.91" y1="267.8" x2="412.91" y2="279.8" stroke="#2aec1a" stroke-width="1.6" />
<line x1="410.51" y1="267.8" x2="415.31" y2="267.8" stroke="#2aec1a" stroke-width="1.6" />
<line x1="410.51" y1="279.8" x2="415.31" y2="279.8" stroke="#2aec1a" stroke-width="1.6" />
<circle cx="412.91" cy="273.8" r="3.5" fill="#2aec1a"/>
<line x1="419.03" y1="277.1" x2="419.03" y2="289.1" stroke="#2aec1a" stroke-width="1.6" />
<line x1="416.63" y1="277.1" x2="421.43" y2="277.1" stroke="#2aec1a" stroke-width="1.6" />
<line x1="416.63" y1="289.1" x2="421.43" y2="289.1" stroke="#2aec1a" stroke-width="1.6" />
<circle cx="419.03" cy="283.1" r="3.5" fill="#2aec1a"/>
<line x1="425.15" y1="261.1" x2="425.15" y2="273.1" stroke="#2aec1a" stroke-width="1.6" />
<line x1="422.75" y1="261.1" x2="427.55" y2="261.1" stroke="#2aec1a" stroke-width="1.6" />
<line x1="422.75" y1="273.1" x2="427.55" y2="273.1" stroke="#2aec1a" stroke-width="1.6" />
<circle cx="425.15" cy="267.1" r="3.5" fill="#2aec1a"/>
<circle cx="437.38" cy="286.2" r="3.5" fill="#2aec1a"/>
<circle cx="443.5" cy="278.5" r="3.5" fill="#2aec1a"/>
<circle cx="449.62" cy="277.5" r="3.5" fill="#2aec1a"/>
<circle cx="455.73" cy="277.5" r="3.5" fill="#2aec1a"/>
<circle cx="461.85" cy="279.4" r="3.5" fill="#2aec1a"/>
<circle cx="467.97" cy="273.8" r="3.5" fill="#2aec1a"/>
<circle cx="474.09" cy="280" r="3.5" fill="#2aec1a"/>
<circle cx="486.32" cy="280" r="3.5" fill="#2aec1a"/>
<circle cx="498.56" cy="274.8" r="3.5" fill="#2aec1a"/>
<line x1="96.4" y1="278.4" x2="514.9" y2="278.4" stroke="#000" stroke-width="1.8" stroke-dasharray="6.5 6.96"/>
<text x="140" y="198.5" font-family="Liberation Sans, Arial, sans-serif" font-size="23" font-weight="bold" text-anchor="middle" fill="#000" >Z &lt; 0</text>
<text x="474.3" y="198.5" font-family="Liberation Sans, Arial, sans-serif" font-size="23" font-weight="bold" text-anchor="middle" fill="#000" >Z &gt; 0</text>
<text x="480.6" y="30.3" font-family="Liberation Sans, Arial, sans-serif" font-size="23" font-weight="bold" text-anchor="middle" fill="#000" >(a)</text>
<line x1="105.96" y1="383.9" x2="105.96" y2="386.7" stroke="#000" stroke-width="1.3" />
<line x1="105.96" y1="624.6" x2="105.96" y2="621.8" stroke="#000" stroke-width="1.3" />
<line x1="136.57" y1="383.9" x2="136.57" y2="386.7" stroke="#000" stroke-width="1.3" />
<line x1="136.57" y1="624.6" x2="136.57" y2="621.8" stroke="#000" stroke-width="1.3" />
<line x1="167.19" y1="383.9" x2="167.19" y2="386.7" stroke="#000" stroke-width="1.3" />
<line x1="167.19" y1="624.6" x2="167.19" y2="621.8" stroke="#000" stroke-width="1.3" />
<line x1="197.8" y1="383.9" x2="197.8" y2="389.1" stroke="#000" stroke-width="1.3" />
<line x1="197.8" y1="624.6" x2="197.8" y2="619.4" stroke="#000" stroke-width="1.3" />
<line x1="197.8" y1="696.6" x2="197.8" y2="694.6" stroke="#000" stroke-width="1.3" />
<line x1="228.41" y1="383.9" x2="228.41" y2="386.7" stroke="#000" stroke-width="1.3" />
<line x1="228.41" y1="624.6" x2="228.41" y2="621.8" stroke="#000" stroke-width="1.3" />
<line x1="259.02" y1="383.9" x2="259.02" y2="386.7" stroke="#000" stroke-width="1.3" />
<line x1="259.02" y1="624.6" x2="259.02" y2="621.8" stroke="#000" stroke-width="1.3" />
<line x1="289.64" y1="383.9" x2="289.64" y2="386.7" stroke="#000" stroke-width="1.3" />
<line x1="289.64" y1="624.6" x2="289.64" y2="621.8" stroke="#000" stroke-width="1.3" />
<line x1="320.25" y1="383.9" x2="320.25" y2="389.1" stroke="#000" stroke-width="1.3" />
<line x1="320.25" y1="624.6" x2="320.25" y2="619.4" stroke="#000" stroke-width="1.3" />
<line x1="320.25" y1="696.6" x2="320.25" y2="694.6" stroke="#000" stroke-width="1.3" />
<line x1="350.86" y1="383.9" x2="350.86" y2="386.7" stroke="#000" stroke-width="1.3" />
<line x1="350.86" y1="624.6" x2="350.86" y2="621.8" stroke="#000" stroke-width="1.3" />
<line x1="381.48" y1="383.9" x2="381.48" y2="386.7" stroke="#000" stroke-width="1.3" />
<line x1="381.48" y1="624.6" x2="381.48" y2="621.8" stroke="#000" stroke-width="1.3" />
<line x1="412.09" y1="383.9" x2="412.09" y2="386.7" stroke="#000" stroke-width="1.3" />
<line x1="412.09" y1="624.6" x2="412.09" y2="621.8" stroke="#000" stroke-width="1.3" />
<line x1="442.7" y1="383.9" x2="442.7" y2="389.1" stroke="#000" stroke-width="1.3" />
<line x1="442.7" y1="624.6" x2="442.7" y2="619.4" stroke="#000" stroke-width="1.3" />
<line x1="442.7" y1="696.6" x2="442.7" y2="694.6" stroke="#000" stroke-width="1.3" />
<line x1="473.31" y1="383.9" x2="473.31" y2="386.7" stroke="#000" stroke-width="1.3" />
<line x1="473.31" y1="624.6" x2="473.31" y2="621.8" stroke="#000" stroke-width="1.3" />
<line x1="503.92" y1="383.9" x2="503.92" y2="386.7" stroke="#000" stroke-width="1.3" />
<line x1="503.92" y1="624.6" x2="503.92" y2="621.8" stroke="#000" stroke-width="1.3" />
<line x1="82.1" y1="623.2" x2="89.6" y2="623.2" stroke="#000" stroke-width="1.3" />
<line x1="515.6" y1="623.2" x2="508.1" y2="623.2" stroke="#000" stroke-width="1.3" />
<line x1="82.1" y1="615.55" x2="86.1" y2="615.55" stroke="#000" stroke-width="1.3" />
<line x1="515.6" y1="615.55" x2="511.6" y2="615.55" stroke="#000" stroke-width="1.3" />
<line x1="82.1" y1="607.9" x2="86.1" y2="607.9" stroke="#000" stroke-width="1.3" />
<line x1="515.6" y1="607.9" x2="511.6" y2="607.9" stroke="#000" stroke-width="1.3" />
<line x1="82.1" y1="600.25" x2="86.1" y2="600.25" stroke="#000" stroke-width="1.3" />
<line x1="515.6" y1="600.25" x2="511.6" y2="600.25" stroke="#000" stroke-width="1.3" />
<line x1="82.1" y1="592.6" x2="89.6" y2="592.6" stroke="#000" stroke-width="1.3" />
<line x1="515.6" y1="592.6" x2="508.1" y2="592.6" stroke="#000" stroke-width="1.3" />
<line x1="82.1" y1="584.95" x2="86.1" y2="584.95" stroke="#000" stroke-width="1.3" />
<line x1="515.6" y1="584.95" x2="511.6" y2="584.95" stroke="#000" stroke-width="1.3" />
<line x1="82.1" y1="577.3" x2="86.1" y2="577.3" stroke="#000" stroke-width="1.3" />
<line x1="515.6" y1="577.3" x2="511.6" y2="577.3" stroke="#000" stroke-width="1.3" />
<line x1="82.1" y1="569.65" x2="86.1" y2="569.65" stroke="#000" stroke-width="1.3" />
<line x1="515.6" y1="569.65" x2="511.6" y2="569.65" stroke="#000" stroke-width="1.3" />
<line x1="82.1" y1="562" x2="89.6" y2="562" stroke="#000" stroke-width="1.3" />
<line x1="515.6" y1="562" x2="508.1" y2="562" stroke="#000" stroke-width="1.3" />
<line x1="82.1" y1="554.35" x2="86.1" y2="554.35" stroke="#000" stroke-width="1.3" />
<line x1="515.6" y1="554.35" x2="511.6" y2="554.35" stroke="#000" stroke-width="1.3" />
<line x1="82.1" y1="546.7" x2="86.1" y2="546.7" stroke="#000" stroke-width="1.3" />
<line x1="515.6" y1="546.7" x2="511.6" y2="546.7" stroke="#000" stroke-width="1.3" />
<line x1="82.1" y1="539.05" x2="86.1" y2="539.05" stroke="#000" stroke-width="1.3" />
<line x1="515.6" y1="539.05" x2="511.6" y2="539.05" stroke="#000" stroke-width="1.3" />
<line x1="82.1" y1="531.4" x2="89.6" y2="531.4" stroke="#000" stroke-width="1.3" />
<line x1="515.6" y1="531.4" x2="508.1" y2="531.4" stroke="#000" stroke-width="1.3" />
<line x1="82.1" y1="523.75" x2="86.1" y2="523.75" stroke="#000" stroke-width="1.3" />
<line x1="515.6" y1="523.75" x2="511.6" y2="523.75" stroke="#000" stroke-width="1.3" />
<line x1="82.1" y1="516.1" x2="86.1" y2="516.1" stroke="#000" stroke-width="1.3" />
<line x1="515.6" y1="516.1" x2="511.6" y2="516.1" stroke="#000" stroke-width="1.3" />
<line x1="82.1" y1="508.45" x2="86.1" y2="508.45" stroke="#000" stroke-width="1.3" />
<line x1="515.6" y1="508.45" x2="511.6" y2="508.45" stroke="#000" stroke-width="1.3" />
<line x1="82.1" y1="500.8" x2="89.6" y2="500.8" stroke="#000" stroke-width="1.3" />
<line x1="515.6" y1="500.8" x2="508.1" y2="500.8" stroke="#000" stroke-width="1.3" />
<line x1="82.1" y1="493.15" x2="86.1" y2="493.15" stroke="#000" stroke-width="1.3" />
<line x1="515.6" y1="493.15" x2="511.6" y2="493.15" stroke="#000" stroke-width="1.3" />
<line x1="82.1" y1="485.5" x2="86.1" y2="485.5" stroke="#000" stroke-width="1.3" />
<line x1="515.6" y1="485.5" x2="511.6" y2="485.5" stroke="#000" stroke-width="1.3" />
<line x1="82.1" y1="477.85" x2="86.1" y2="477.85" stroke="#000" stroke-width="1.3" />
<line x1="515.6" y1="477.85" x2="511.6" y2="477.85" stroke="#000" stroke-width="1.3" />
<line x1="82.1" y1="470.2" x2="89.6" y2="470.2" stroke="#000" stroke-width="1.3" />
<line x1="515.6" y1="470.2" x2="508.1" y2="470.2" stroke="#000" stroke-width="1.3" />
<line x1="82.1" y1="462.55" x2="86.1" y2="462.55" stroke="#000" stroke-width="1.3" />
<line x1="515.6" y1="462.55" x2="511.6" y2="462.55" stroke="#000" stroke-width="1.3" />
<line x1="82.1" y1="454.9" x2="86.1" y2="454.9" stroke="#000" stroke-width="1.3" />
<line x1="515.6" y1="454.9" x2="511.6" y2="454.9" stroke="#000" stroke-width="1.3" />
<line x1="82.1" y1="447.25" x2="86.1" y2="447.25" stroke="#000" stroke-width="1.3" />
<line x1="515.6" y1="447.25" x2="511.6" y2="447.25" stroke="#000" stroke-width="1.3" />
<line x1="82.1" y1="439.6" x2="89.6" y2="439.6" stroke="#000" stroke-width="1.3" />
<line x1="515.6" y1="439.6" x2="508.1" y2="439.6" stroke="#000" stroke-width="1.3" />
<line x1="82.1" y1="431.95" x2="86.1" y2="431.95" stroke="#000" stroke-width="1.3" />
<line x1="515.6" y1="431.95" x2="511.6" y2="431.95" stroke="#000" stroke-width="1.3" />
<line x1="82.1" y1="424.3" x2="86.1" y2="424.3" stroke="#000" stroke-width="1.3" />
<line x1="515.6" y1="424.3" x2="511.6" y2="424.3" stroke="#000" stroke-width="1.3" />
<line x1="82.1" y1="416.65" x2="86.1" y2="416.65" stroke="#000" stroke-width="1.3" />
<line x1="515.6" y1="416.65" x2="511.6" y2="416.65" stroke="#000" stroke-width="1.3" />
<line x1="82.1" y1="409" x2="89.6" y2="409" stroke="#000" stroke-width="1.3" />
<line x1="515.6" y1="409" x2="508.1" y2="409" stroke="#000" stroke-width="1.3" />
<line x1="82.1" y1="401.35" x2="86.1" y2="401.35" stroke="#000" stroke-width="1.3" />
<line x1="515.6" y1="401.35" x2="511.6" y2="401.35" stroke="#000" stroke-width="1.3" />
<line x1="82.1" y1="393.7" x2="86.1" y2="393.7" stroke="#000" stroke-width="1.3" />
<line x1="515.6" y1="393.7" x2="511.6" y2="393.7" stroke="#000" stroke-width="1.3" />
<line x1="82.1" y1="386.05" x2="86.1" y2="386.05" stroke="#000" stroke-width="1.3" />
<line x1="515.6" y1="386.05" x2="511.6" y2="386.05" stroke="#000" stroke-width="1.3" />
<line x1="82.1" y1="693" x2="90.1" y2="693" stroke="#000" stroke-width="1.3" />
<line x1="515.6" y1="693" x2="507.6" y2="693" stroke="#000" stroke-width="1.3" />
<line x1="82.1" y1="689.8" x2="86.1" y2="689.8" stroke="#000" stroke-width="1.3" />
<line x1="515.6" y1="689.8" x2="511.6" y2="689.8" stroke="#000" stroke-width="1.3" />
<line x1="82.1" y1="686.6" x2="86.1" y2="686.6" stroke="#000" stroke-width="1.3" />
<line x1="515.6" y1="686.6" x2="511.6" y2="686.6" stroke="#000" stroke-width="1.3" />
<line x1="82.1" y1="683.4" x2="86.1" y2="683.4" stroke="#000" stroke-width="1.3" />
<line x1="515.6" y1="683.4" x2="511.6" y2="683.4" stroke="#000" stroke-width="1.3" />
<line x1="82.1" y1="680.2" x2="86.1" y2="680.2" stroke="#000" stroke-width="1.3" />
<line x1="515.6" y1="680.2" x2="511.6" y2="680.2" stroke="#000" stroke-width="1.3" />
<line x1="82.1" y1="677" x2="90.1" y2="677" stroke="#000" stroke-width="1.3" />
<line x1="515.6" y1="677" x2="507.6" y2="677" stroke="#000" stroke-width="1.3" />
<line x1="82.1" y1="673.8" x2="86.1" y2="673.8" stroke="#000" stroke-width="1.3" />
<line x1="515.6" y1="673.8" x2="511.6" y2="673.8" stroke="#000" stroke-width="1.3" />
<line x1="82.1" y1="670.6" x2="86.1" y2="670.6" stroke="#000" stroke-width="1.3" />
<line x1="515.6" y1="670.6" x2="511.6" y2="670.6" stroke="#000" stroke-width="1.3" />
<line x1="82.1" y1="667.4" x2="86.1" y2="667.4" stroke="#000" stroke-width="1.3" />
<line x1="515.6" y1="667.4" x2="511.6" y2="667.4" stroke="#000" stroke-width="1.3" />
<line x1="82.1" y1="664.2" x2="86.1" y2="664.2" stroke="#000" stroke-width="1.3" />
<line x1="515.6" y1="664.2" x2="511.6" y2="664.2" stroke="#000" stroke-width="1.3" />
<line x1="82.1" y1="661" x2="90.1" y2="661" stroke="#000" stroke-width="1.3" />
<line x1="515.6" y1="661" x2="507.6" y2="661" stroke="#000" stroke-width="1.3" />
<line x1="82.1" y1="657.8" x2="86.1" y2="657.8" stroke="#000" stroke-width="1.3" />
<line x1="515.6" y1="657.8" x2="511.6" y2="657.8" stroke="#000" stroke-width="1.3" />
<line x1="82.1" y1="654.6" x2="86.1" y2="654.6" stroke="#000" stroke-width="1.3" />
<line x1="515.6" y1="654.6" x2="511.6" y2="654.6" stroke="#000" stroke-width="1.3" />
<line x1="82.1" y1="651.4" x2="86.1" y2="651.4" stroke="#000" stroke-width="1.3" />
<line x1="515.6" y1="651.4" x2="511.6" y2="651.4" stroke="#000" stroke-width="1.3" />
<line x1="82.1" y1="648.2" x2="86.1" y2="648.2" stroke="#000" stroke-width="1.3" />
<line x1="515.6" y1="648.2" x2="511.6" y2="648.2" stroke="#000" stroke-width="1.3" />
<line x1="82.1" y1="645" x2="90.1" y2="645" stroke="#000" stroke-width="1.3" />
<line x1="515.6" y1="645" x2="507.6" y2="645" stroke="#000" stroke-width="1.3" />
<line x1="82.1" y1="641.8" x2="86.1" y2="641.8" stroke="#000" stroke-width="1.3" />
<line x1="515.6" y1="641.8" x2="511.6" y2="641.8" stroke="#000" stroke-width="1.3" />
<line x1="82.1" y1="638.6" x2="86.1" y2="638.6" stroke="#000" stroke-width="1.3" />
<line x1="515.6" y1="638.6" x2="511.6" y2="638.6" stroke="#000" stroke-width="1.3" />
<line x1="82.1" y1="635.4" x2="86.1" y2="635.4" stroke="#000" stroke-width="1.3" />
<line x1="515.6" y1="635.4" x2="511.6" y2="635.4" stroke="#000" stroke-width="1.3" />
<line x1="82.1" y1="632.2" x2="86.1" y2="632.2" stroke="#000" stroke-width="1.3" />
<line x1="515.6" y1="632.2" x2="511.6" y2="632.2" stroke="#000" stroke-width="1.3" />
<line x1="82.1" y1="629" x2="90.1" y2="629" stroke="#000" stroke-width="1.3" />
<line x1="515.6" y1="629" x2="507.6" y2="629" stroke="#000" stroke-width="1.3" />
<line x1="82.1" y1="625.8" x2="86.1" y2="625.8" stroke="#000" stroke-width="1.3" />
<line x1="515.6" y1="625.8" x2="511.6" y2="625.8" stroke="#000" stroke-width="1.3" />
<text x="78.6" y="625.5" font-family="Liberation Sans, Arial, sans-serif" font-size="14" font-weight="normal" text-anchor="end" fill="#000" >0.00</text>
<text x="78.6" y="596.7" font-family="Liberation Sans, Arial, sans-serif" font-size="14" font-weight="normal" text-anchor="end" fill="#000" >0.02</text>
<text x="78.6" y="566.1" font-family="Liberation Sans, Arial, sans-serif" font-size="14" font-weight="normal" text-anchor="end" fill="#000" >0.04</text>
<text x="78.6" y="535.5" font-family="Liberation Sans, Arial, sans-serif" font-size="14" font-weight="normal" text-anchor="end" fill="#000" >0.06</text>
<text x="78.6" y="504.9" font-family="Liberation Sans, Arial, sans-serif" font-size="14" font-weight="normal" text-anchor="end" fill="#000" >0.08</text>
<text x="78.6" y="474.3" font-family="Liberation Sans, Arial, sans-serif" font-size="14" font-weight="normal" text-anchor="end" fill="#000" >0.10</text>
<text x="78.6" y="443.7" font-family="Liberation Sans, Arial, sans-serif" font-size="14" font-weight="normal" text-anchor="end" fill="#000" >0.12</text>
<text x="78.6" y="413.1" font-family="Liberation Sans, Arial, sans-serif" font-size="14" font-weight="normal" text-anchor="end" fill="#000" >0.14</text>
<text x="78.6" y="634.3" font-family="Liberation Sans, Arial, sans-serif" font-size="14" font-weight="normal" text-anchor="end" fill="#000" >0.010</text>
<text x="78.6" y="650.3" font-family="Liberation Sans, Arial, sans-serif" font-size="14" font-weight="normal" text-anchor="end" fill="#000" >0.005</text>
<text x="78.6" y="666.3" font-family="Liberation Sans, Arial, sans-serif" font-size="14" font-weight="normal" text-anchor="end" fill="#000" >0.000</text>
<text x="78.6" y="682.3" font-family="Liberation Sans, Arial, sans-serif" font-size="14" font-weight="normal" text-anchor="end" fill="#000" >-0.005</text>
<text x="78.6" y="698.3" font-family="Liberation Sans, Arial, sans-serif" font-size="14" font-weight="normal" text-anchor="end" fill="#000" >-0.010</text>
<text x="197.8" y="642.6" font-family="Liberation Sans, Arial, sans-serif" font-size="14" font-weight="normal" text-anchor="middle" fill="#000" >20</text>
<text x="197.8" y="714.6" font-family="Liberation Sans, Arial, sans-serif" font-size="14" font-weight="normal" text-anchor="middle" fill="#000" >20</text>
<text x="320.25" y="642.6" font-family="Liberation Sans, Arial, sans-serif" font-size="14" font-weight="normal" text-anchor="middle" fill="#000" >40</text>
<text x="320.25" y="714.6" font-family="Liberation Sans, Arial, sans-serif" font-size="14" font-weight="normal" text-anchor="middle" fill="#000" >40</text>
<text x="442.7" y="642.6" font-family="Liberation Sans, Arial, sans-serif" font-size="14" font-weight="normal" text-anchor="middle" fill="#000" >60</text>
<text x="442.7" y="714.6" font-family="Liberation Sans, Arial, sans-serif" font-size="14" font-weight="normal" text-anchor="middle" fill="#000" >60</text>
<rect x="82.1" y="383.9" width="433.5" height="240.7" fill="none" stroke="#000" stroke-width="1.7"/>
<rect x="82.1" y="624.6" width="433.5" height="72" fill="none" stroke="#000" stroke-width="1.7"/>
<text x="296.5" y="741.1" font-family="Liberation Sans, Arial, sans-serif" font-size="21.5" font-weight="bold" text-anchor="middle" fill="#000" >CH#</text>
<g clip-path="url(#cB)">
<line x1="87.59" y1="383" x2="87.59" y2="625" stroke="#000" stroke-width="1.7" />
<line x1="99.84" y1="383" x2="99.84" y2="625" stroke="#000" stroke-width="1.7" />
<line x1="93.72" y1="510" x2="93.72" y2="625" stroke="#000" stroke-width="1.5" />
<line x1="91.52" y1="510" x2="95.92" y2="510" stroke="#000" stroke-width="1.5" />
<circle cx="93.72" cy="578" r="3.5" fill="none" stroke="#000" stroke-width="1.5"/>
<circle cx="136.57" cy="619.3" r="3.9" fill="#000"/>
<circle cx="148.82" cy="618" r="3.9" fill="#000"/>
<circle cx="154.94" cy="612.9" r="3.9" fill="#000"/>
<circle cx="161.06" cy="613.6" r="3.9" fill="#000"/>
<circle cx="167.19" cy="609.5" r="3.9" fill="#000"/>
<circle cx="173.31" cy="607.5" r="3.9" fill="#000"/>
<circle cx="179.43" cy="602" r="3.9" fill="#000"/>
<circle cx="191.68" cy="588.9" r="3.9" fill="#000"/>
<circle cx="197.8" cy="573.8" r="3.9" fill="#000"/>
<circle cx="203.92" cy="567" r="3.9" fill="#000"/>
<circle cx="228.41" cy="462.3" r="3.9" fill="#000"/>
<circle cx="234.53" cy="425.4" r="3.9" fill="#000"/>
<circle cx="240.66" cy="414" r="3.9" fill="#000"/>
<circle cx="246.78" cy="424.8" r="3.9" fill="#000"/>
<circle cx="252.9" cy="423.2" r="3.9" fill="#000"/>
<circle cx="259.02" cy="423.8" r="3.9" fill="#000"/>
<circle cx="265.15" cy="414.6" r="3.9" fill="#000"/>
<circle cx="271.27" cy="399.2" r="3.9" fill="#000"/>
<circle cx="277.39" cy="414.2" r="3.9" fill="#000"/>
<circle cx="283.51" cy="417" r="3.9" fill="#000"/>
<circle cx="289.64" cy="416.2" r="3.9" fill="#000"/>
<circle cx="295.76" cy="414.6" r="3.9" fill="#000"/>
<circle cx="301.88" cy="417.7" r="3.9" fill="#000"/>
<circle cx="308" cy="417.7" r="3.9" fill="#000"/>
<circle cx="314.13" cy="415.5" r="3.9" fill="#000"/>
<circle cx="320.25" cy="383.5" r="3.9" fill="#000"/>
<circle cx="338.62" cy="411" r="3.9" fill="#000"/>
<circle cx="344.74" cy="416.8" r="3.9" fill="#000"/>
<circle cx="350.86" cy="419.2" r="3.9" fill="#000"/>
<circle cx="356.99" cy="413.1" r="3.9" fill="#000"/>
<circle cx="363.11" cy="428.5" r="3.9" fill="#000"/>
<circle cx="369.23" cy="421.3" r="3.9" fill="#000"/>
<circle cx="375.35" cy="447.8" r="3.9" fill="#000"/>
<circle cx="381.48" cy="468.3" r="3.9" fill="#000"/>
<circle cx="387.6" cy="483.8" r="3.9" fill="#000"/>
<circle cx="393.72" cy="519.9" r="3.9" fill="#000"/>
<circle cx="399.84" cy="536.3" r="3.9" fill="#000"/>
<circle cx="405.96" cy="558" r="3.9" fill="#000"/>
<circle cx="412.09" cy="563.7" r="3.9" fill="#000"/>
<circle cx="418.21" cy="591.4" r="3.9" fill="#000"/>
<circle cx="424.33" cy="586.8" r="3.9" fill="#000"/>
<circle cx="436.58" cy="607" r="3.9" fill="#000"/>
<circle cx="442.7" cy="604.4" r="3.9" fill="#000"/>
<circle cx="448.82" cy="614.2" r="3.9" fill="#000"/>
<circle cx="454.94" cy="613.1" r="3.9" fill="#000"/>
<circle cx="461.07" cy="615.1" r="3.9" fill="#000"/>
<circle cx="467.19" cy="618" r="3.9" fill="#000"/>
<circle cx="473.31" cy="620" r="3.9" fill="#000"/>
<circle cx="485.56" cy="620.5" r="3.9" fill="#000"/>
<circle cx="497.8" cy="621.5" r="3.9" fill="#000"/>
<circle cx="130.45" cy="616.5" r="3.5" fill="#fff" stroke="#000" stroke-width="2.0"/>
<line x1="130.45" y1="614.3" x2="130.45" y2="618.7" stroke="#000" stroke-width="1.3" />
<line x1="128.75" y1="614.3" x2="132.15" y2="614.3" stroke="#000" stroke-width="1.4" />
<line x1="128.75" y1="618.7" x2="132.15" y2="618.7" stroke="#000" stroke-width="1.4" />
<circle cx="185.56" cy="582.8" r="3.5" fill="#fff" stroke="#000" stroke-width="2.0"/>
<line x1="185.56" y1="580.6" x2="185.56" y2="585" stroke="#000" stroke-width="1.3" />
<line x1="183.86" y1="580.6" x2="187.25" y2="580.6" stroke="#000" stroke-width="1.4" />
<line x1="183.86" y1="585" x2="187.25" y2="585" stroke="#000" stroke-width="1.4" />
<circle cx="210.04" cy="562.3" r="3.5" fill="#fff" stroke="#000" stroke-width="2.0"/>
<line x1="210.04" y1="560.1" x2="210.04" y2="564.5" stroke="#000" stroke-width="1.3" />
<line x1="208.34" y1="560.1" x2="211.74" y2="560.1" stroke="#000" stroke-width="1.4" />
<line x1="208.34" y1="564.5" x2="211.74" y2="564.5" stroke="#000" stroke-width="1.4" />
<circle cx="216.17" cy="548" r="3.5" fill="#fff" stroke="#000" stroke-width="2.0"/>
<line x1="216.17" y1="545.8" x2="216.17" y2="550.2" stroke="#000" stroke-width="1.3" />
<line x1="214.47" y1="545.8" x2="217.87" y2="545.8" stroke="#000" stroke-width="1.4" />
<line x1="214.47" y1="550.2" x2="217.87" y2="550.2" stroke="#000" stroke-width="1.4" />
<circle cx="222.29" cy="545.4" r="3.5" fill="#fff" stroke="#000" stroke-width="2.0"/>
<line x1="222.29" y1="543.2" x2="222.29" y2="547.6" stroke="#000" stroke-width="1.3" />
<line x1="220.59" y1="543.2" x2="223.99" y2="543.2" stroke="#000" stroke-width="1.4" />
<line x1="220.59" y1="547.6" x2="223.99" y2="547.6" stroke="#000" stroke-width="1.4" />
<circle cx="326.37" cy="398.6" r="3.5" fill="#fff" stroke="#000" stroke-width="2.0"/>
<line x1="326.37" y1="396.4" x2="326.37" y2="400.8" stroke="#000" stroke-width="1.3" />
<line x1="324.67" y1="396.4" x2="328.07" y2="396.4" stroke="#000" stroke-width="1.4" />
<line x1="324.67" y1="400.8" x2="328.07" y2="400.8" stroke="#000" stroke-width="1.4" />
<circle cx="430.45" cy="594.9" r="3.5" fill="#fff" stroke="#000" stroke-width="2.0"/>
<line x1="430.45" y1="592.7" x2="430.45" y2="597.1" stroke="#000" stroke-width="1.3" />
<line x1="428.75" y1="592.7" x2="432.15" y2="592.7" stroke="#000" stroke-width="1.4" />
<line x1="428.75" y1="597.1" x2="432.15" y2="597.1" stroke="#000" stroke-width="1.4" />
<circle cx="479.43" cy="616.5" r="3.5" fill="#fff" stroke="#000" stroke-width="2.0"/>
<line x1="479.43" y1="614.3" x2="479.43" y2="618.7" stroke="#000" stroke-width="1.3" />
<line x1="477.73" y1="614.3" x2="481.13" y2="614.3" stroke="#000" stroke-width="1.4" />
<line x1="477.73" y1="618.7" x2="481.13" y2="618.7" stroke="#000" stroke-width="1.4" />
<circle cx="105.96" cy="622.3" r="3.2" fill="#fff" stroke="#000" stroke-width="1.05"/>
<circle cx="112.08" cy="622.4" r="3.2" fill="#fff" stroke="#000" stroke-width="1.05"/>
<circle cx="118.21" cy="622.7" r="3.2" fill="#fff" stroke="#000" stroke-width="1.05"/>
<circle cx="124.33" cy="622.6" r="3.2" fill="#fff" stroke="#000" stroke-width="1.05"/>
<circle cx="491.68" cy="621.5" r="3.2" fill="#fff" stroke="#000" stroke-width="1.05"/>
<circle cx="503.92" cy="621.7" r="3.2" fill="#fff" stroke="#000" stroke-width="1.05"/>
<circle cx="510.05" cy="621.7" r="3.2" fill="#fff" stroke="#000" stroke-width="1.05"/>
<path d="M137,620.5 L148.9,617.5 L160.8,613.5 L166.9,610.5 L173.5,607 L180,600.5 L185.5,594 L191.5,586.2 L196,578.5 L200.8,570 L206.9,557 L214.6,520 L222.2,480 L224.6,467.3 L227.5,453.8 L231.3,442.3 L236.2,432.7 L238.8,427 L245.8,419.4 L253.8,416.5 L261.9,413.7 L268.8,411.7 L273.5,411.9 L279.2,413.7 L285,414.8 L294.6,416.8 L310,417 L322.3,415.2 L350.8,416.2 L355,418.3 L362,420.5 L369.2,423.6 L371,430 L374.9,446 L381,466 L387.3,483.8 L393.1,515.6 L400.3,537.2 L405.5,553 L411.2,570 L416.9,581.5 L421.5,588.5 L427.3,594.8 L433,601.1 L440,606.9 L446.9,611.5 L456.1,615 L464.2,618.4 L468.8,620.8 L477,621.8 L490,623" fill="none" stroke="#3cc935" stroke-width="2.0" stroke-linejoin="round" />
</g>
<line x1="83.1" y1="622.7" x2="515" y2="622.7" stroke="#3348e0" stroke-width="2.2" />
<line x1="95.1" y1="623.6" x2="515" y2="623.6" stroke="#000" stroke-width="1.8" stroke-dasharray="6.5 6.8"/>
<line x1="136.57" y1="659" x2="136.57" y2="665" stroke="#2aec1a" stroke-width="1.6" />
<line x1="134.17" y1="659" x2="138.97" y2="659" stroke="#2aec1a" stroke-width="1.6" />
<line x1="134.17" y1="665" x2="138.97" y2="665" stroke="#2aec1a" stroke-width="1.6" />
<circle cx="136.57" cy="662" r="3.5" fill="#2aec1a"/>
<line x1="148.82" y1="659.7" x2="148.82" y2="665.7" stroke="#2aec1a" stroke-width="1.6" />
<line x1="146.42" y1="659.7" x2="151.22" y2="659.7" stroke="#2aec1a" stroke-width="1.6" />
<line x1="146.42" y1="665.7" x2="151.22" y2="665.7" stroke="#2aec1a" stroke-width="1.6" />
<circle cx="148.82" cy="662.7" r="3.5" fill="#2aec1a"/>
<line x1="154.94" y1="655" x2="154.94" y2="661" stroke="#2aec1a" stroke-width="1.6" />
<line x1="152.54" y1="655" x2="157.34" y2="655" stroke="#2aec1a" stroke-width="1.6" />
<line x1="152.54" y1="661" x2="157.34" y2="661" stroke="#2aec1a" stroke-width="1.6" />
<circle cx="154.94" cy="658" r="3.5" fill="#2aec1a"/>
<line x1="161.06" y1="658.8" x2="161.06" y2="664.8" stroke="#2aec1a" stroke-width="1.6" />
<line x1="158.66" y1="658.8" x2="163.47" y2="658.8" stroke="#2aec1a" stroke-width="1.6" />
<line x1="158.66" y1="664.8" x2="163.47" y2="664.8" stroke="#2aec1a" stroke-width="1.6" />
<circle cx="161.06" cy="661.8" r="3.5" fill="#2aec1a"/>
<line x1="167.19" y1="655" x2="167.19" y2="661" stroke="#2aec1a" stroke-width="1.6" />
<line x1="164.79" y1="655" x2="169.59" y2="655" stroke="#2aec1a" stroke-width="1.6" />
<line x1="164.79" y1="661" x2="169.59" y2="661" stroke="#2aec1a" stroke-width="1.6" />
<circle cx="167.19" cy="658" r="3.5" fill="#2aec1a"/>
<line x1="173.31" y1="659.7" x2="173.31" y2="665.7" stroke="#2aec1a" stroke-width="1.6" />
<line x1="170.91" y1="659.7" x2="175.71" y2="659.7" stroke="#2aec1a" stroke-width="1.6" />
<line x1="170.91" y1="665.7" x2="175.71" y2="665.7" stroke="#2aec1a" stroke-width="1.6" />
<circle cx="173.31" cy="662.7" r="3.5" fill="#2aec1a"/>
<line x1="179.43" y1="657.5" x2="179.43" y2="663.5" stroke="#2aec1a" stroke-width="1.6" />
<line x1="177.03" y1="657.5" x2="181.83" y2="657.5" stroke="#2aec1a" stroke-width="1.6" />
<line x1="177.03" y1="663.5" x2="181.83" y2="663.5" stroke="#2aec1a" stroke-width="1.6" />
<circle cx="179.43" cy="660.5" r="3.5" fill="#2aec1a"/>
<line x1="191.68" y1="661.8" x2="191.68" y2="667.8" stroke="#2aec1a" stroke-width="1.6" />
<line x1="189.28" y1="661.8" x2="194.08" y2="661.8" stroke="#2aec1a" stroke-width="1.6" />
<line x1="189.28" y1="667.8" x2="194.08" y2="667.8" stroke="#2aec1a" stroke-width="1.6" />
<circle cx="191.68" cy="664.8" r="3.5" fill="#2aec1a"/>
<line x1="197.8" y1="651" x2="197.8" y2="657" stroke="#2aec1a" stroke-width="1.6" />
<line x1="195.4" y1="651" x2="200.2" y2="651" stroke="#2aec1a" stroke-width="1.6" />
<line x1="195.4" y1="657" x2="200.2" y2="657" stroke="#2aec1a" stroke-width="1.6" />
<circle cx="197.8" cy="654" r="3.5" fill="#2aec1a"/>
<line x1="203.92" y1="662.8" x2="203.92" y2="668.8" stroke="#2aec1a" stroke-width="1.6" />
<line x1="201.52" y1="662.8" x2="206.32" y2="662.8" stroke="#2aec1a" stroke-width="1.6" />
<line x1="201.52" y1="668.8" x2="206.32" y2="668.8" stroke="#2aec1a" stroke-width="1.6" />
<circle cx="203.92" cy="665.8" r="3.5" fill="#2aec1a"/>
<line x1="228.41" y1="678.3" x2="228.41" y2="693.3" stroke="#2aec1a" stroke-width="1.6" />
<line x1="226.01" y1="678.3" x2="230.81" y2="678.3" stroke="#2aec1a" stroke-width="1.6" />
<line x1="226.01" y1="693.3" x2="230.81" y2="693.3" stroke="#2aec1a" stroke-width="1.6" />
<circle cx="228.41" cy="685.8" r="3.5" fill="#2aec1a"/>
<line x1="234.53" y1="632.5" x2="234.53" y2="647.5" stroke="#2aec1a" stroke-width="1.6" />
<line x1="232.13" y1="632.5" x2="236.94" y2="632.5" stroke="#2aec1a" stroke-width="1.6" />
<line x1="232.13" y1="647.5" x2="236.94" y2="647.5" stroke="#2aec1a" stroke-width="1.6" />
<circle cx="234.53" cy="640" r="3.5" fill="#2aec1a"/>
<line x1="240.66" y1="630" x2="240.66" y2="645" stroke="#2aec1a" stroke-width="1.6" />
<line x1="238.26" y1="630" x2="243.06" y2="630" stroke="#2aec1a" stroke-width="1.6" />
<line x1="238.26" y1="645" x2="243.06" y2="645" stroke="#2aec1a" stroke-width="1.6" />
<circle cx="240.66" cy="637.5" r="3.5" fill="#2aec1a"/>
<line x1="246.78" y1="662.3" x2="246.78" y2="677.3" stroke="#2aec1a" stroke-width="1.6" />
<line x1="244.38" y1="662.3" x2="249.18" y2="662.3" stroke="#2aec1a" stroke-width="1.6" />
<line x1="244.38" y1="677.3" x2="249.18" y2="677.3" stroke="#2aec1a" stroke-width="1.6" />
<circle cx="246.78" cy="669.8" r="3.5" fill="#2aec1a"/>
<line x1="252.9" y1="664.5" x2="252.9" y2="679.5" stroke="#2aec1a" stroke-width="1.6" />
<line x1="250.5" y1="664.5" x2="255.3" y2="664.5" stroke="#2aec1a" stroke-width="1.6" />
<line x1="250.5" y1="679.5" x2="255.3" y2="679.5" stroke="#2aec1a" stroke-width="1.6" />
<circle cx="252.9" cy="672" r="3.5" fill="#2aec1a"/>
<line x1="259.02" y1="668.5" x2="259.02" y2="683.5" stroke="#2aec1a" stroke-width="1.6" />
<line x1="256.62" y1="668.5" x2="261.42" y2="668.5" stroke="#2aec1a" stroke-width="1.6" />
<line x1="256.62" y1="683.5" x2="261.42" y2="683.5" stroke="#2aec1a" stroke-width="1.6" />
<circle cx="259.02" cy="676" r="3.5" fill="#2aec1a"/>
<line x1="265.15" y1="657.3" x2="265.15" y2="672.3" stroke="#2aec1a" stroke-width="1.6" />
<line x1="262.75" y1="657.3" x2="267.55" y2="657.3" stroke="#2aec1a" stroke-width="1.6" />
<line x1="262.75" y1="672.3" x2="267.55" y2="672.3" stroke="#2aec1a" stroke-width="1.6" />
<circle cx="265.15" cy="664.8" r="3.5" fill="#2aec1a"/>
<line x1="271.27" y1="626" x2="271.27" y2="641" stroke="#2aec1a" stroke-width="1.6" />
<line x1="268.87" y1="626" x2="273.67" y2="626" stroke="#2aec1a" stroke-width="1.6" />
<line x1="268.87" y1="641" x2="273.67" y2="641" stroke="#2aec1a" stroke-width="1.6" />
<circle cx="271.27" cy="633.5" r="3.5" fill="#2aec1a"/>
<line x1="277.39" y1="658.9" x2="277.39" y2="673.9" stroke="#2aec1a" stroke-width="1.6" />
<line x1="274.99" y1="658.9" x2="279.79" y2="658.9" stroke="#2aec1a" stroke-width="1.6" />
<line x1="274.99" y1="673.9" x2="279.79" y2="673.9" stroke="#2aec1a" stroke-width="1.6" />
<circle cx="277.39" cy="666.4" r="3.5" fill="#2aec1a"/>
<line x1="283.51" y1="658.3" x2="283.51" y2="673.3" stroke="#2aec1a" stroke-width="1.6" />
<line x1="281.12" y1="658.3" x2="285.91" y2="658.3" stroke="#2aec1a" stroke-width="1.6" />
<line x1="281.12" y1="673.3" x2="285.91" y2="673.3" stroke="#2aec1a" stroke-width="1.6" />
<circle cx="283.51" cy="665.8" r="3.5" fill="#2aec1a"/>
<line x1="289.64" y1="656.1" x2="289.64" y2="671.1" stroke="#2aec1a" stroke-width="1.6" />
<line x1="287.24" y1="656.1" x2="292.04" y2="656.1" stroke="#2aec1a" stroke-width="1.6" />
<line x1="287.24" y1="671.1" x2="292.04" y2="671.1" stroke="#2aec1a" stroke-width="1.6" />
<circle cx="289.64" cy="663.6" r="3.5" fill="#2aec1a"/>
<line x1="295.76" y1="652.1" x2="295.76" y2="667.1" stroke="#2aec1a" stroke-width="1.6" />
<line x1="293.36" y1="652.1" x2="298.16" y2="652.1" stroke="#2aec1a" stroke-width="1.6" />
<line x1="293.36" y1="667.1" x2="298.16" y2="667.1" stroke="#2aec1a" stroke-width="1.6" />
<circle cx="295.76" cy="659.6" r="3.5" fill="#2aec1a"/>
<line x1="301.88" y1="657.7" x2="301.88" y2="672.7" stroke="#2aec1a" stroke-width="1.6" />
<line x1="299.48" y1="657.7" x2="304.28" y2="657.7" stroke="#2aec1a" stroke-width="1.6" />
<line x1="299.48" y1="672.7" x2="304.28" y2="672.7" stroke="#2aec1a" stroke-width="1.6" />
<circle cx="301.88" cy="665.2" r="3.5" fill="#2aec1a"/>
<line x1="308" y1="656.7" x2="308" y2="671.7" stroke="#2aec1a" stroke-width="1.6" />
<line x1="305.61" y1="656.7" x2="310.4" y2="656.7" stroke="#2aec1a" stroke-width="1.6" />
<line x1="305.61" y1="671.7" x2="310.4" y2="671.7" stroke="#2aec1a" stroke-width="1.6" />
<circle cx="308" cy="664.2" r="3.5" fill="#2aec1a"/>
<line x1="314.13" y1="657.7" x2="314.13" y2="672.7" stroke="#2aec1a" stroke-width="1.6" />
<line x1="311.73" y1="657.7" x2="316.53" y2="657.7" stroke="#2aec1a" stroke-width="1.6" />
<line x1="311.73" y1="672.7" x2="316.53" y2="672.7" stroke="#2aec1a" stroke-width="1.6" />
<circle cx="314.13" cy="665.2" r="3.5" fill="#2aec1a"/>
<line x1="338.62" y1="646" x2="338.62" y2="661" stroke="#2aec1a" stroke-width="1.6" />
<line x1="336.22" y1="646" x2="341.02" y2="646" stroke="#2aec1a" stroke-width="1.6" />
<line x1="336.22" y1="661" x2="341.02" y2="661" stroke="#2aec1a" stroke-width="1.6" />
<circle cx="338.62" cy="653.5" r="3.5" fill="#2aec1a"/>
<line x1="344.74" y1="656.7" x2="344.74" y2="671.7" stroke="#2aec1a" stroke-width="1.6" />
<line x1="342.34" y1="656.7" x2="347.14" y2="656.7" stroke="#2aec1a" stroke-width="1.6" />
<line x1="342.34" y1="671.7" x2="347.14" y2="671.7" stroke="#2aec1a" stroke-width="1.6" />
<circle cx="344.74" cy="664.2" r="3.5" fill="#2aec1a"/>
<line x1="350.86" y1="658.3" x2="350.86" y2="673.3" stroke="#2aec1a" stroke-width="1.6" />
<line x1="348.46" y1="658.3" x2="353.26" y2="658.3" stroke="#2aec1a" stroke-width="1.6" />
<line x1="348.46" y1="673.3" x2="353.26" y2="673.3" stroke="#2aec1a" stroke-width="1.6" />
<circle cx="350.86" cy="665.8" r="3.5" fill="#2aec1a"/>
<line x1="356.99" y1="642.9" x2="356.99" y2="657.9" stroke="#2aec1a" stroke-width="1.6" />
<line x1="354.59" y1="642.9" x2="359.38" y2="642.9" stroke="#2aec1a" stroke-width="1.6" />
<line x1="354.59" y1="657.9" x2="359.38" y2="657.9" stroke="#2aec1a" stroke-width="1.6" />
<circle cx="356.99" cy="650.4" r="3.5" fill="#2aec1a"/>
<line x1="363.11" y1="670.3" x2="363.11" y2="685.3" stroke="#2aec1a" stroke-width="1.6" />
<line x1="360.71" y1="670.3" x2="365.51" y2="670.3" stroke="#2aec1a" stroke-width="1.6" />
<line x1="360.71" y1="685.3" x2="365.51" y2="685.3" stroke="#2aec1a" stroke-width="1.6" />
<circle cx="363.11" cy="677.8" r="3.5" fill="#2aec1a"/>
<line x1="369.23" y1="649" x2="369.23" y2="664" stroke="#2aec1a" stroke-width="1.6" />
<line x1="366.83" y1="649" x2="371.63" y2="649" stroke="#2aec1a" stroke-width="1.6" />
<line x1="366.83" y1="664" x2="371.63" y2="664" stroke="#2aec1a" stroke-width="1.6" />
<circle cx="369.23" cy="656.5" r="3.5" fill="#2aec1a"/>
<line x1="375.35" y1="644.1" x2="375.35" y2="659.1" stroke="#2aec1a" stroke-width="1.6" />
<line x1="372.95" y1="644.1" x2="377.75" y2="644.1" stroke="#2aec1a" stroke-width="1.6" />
<line x1="372.95" y1="659.1" x2="377.75" y2="659.1" stroke="#2aec1a" stroke-width="1.6" />
<circle cx="375.35" cy="651.6" r="3.5" fill="#2aec1a"/>
<line x1="381.48" y1="657.3" x2="381.48" y2="672.3" stroke="#2aec1a" stroke-width="1.6" />
<line x1="379.08" y1="657.3" x2="383.88" y2="657.3" stroke="#2aec1a" stroke-width="1.6" />
<line x1="379.08" y1="672.3" x2="383.88" y2="672.3" stroke="#2aec1a" stroke-width="1.6" />
<circle cx="381.48" cy="664.8" r="3.5" fill="#2aec1a"/>
<line x1="387.6" y1="652.1" x2="387.6" y2="667.1" stroke="#2aec1a" stroke-width="1.6" />
<line x1="385.2" y1="652.1" x2="390" y2="652.1" stroke="#2aec1a" stroke-width="1.6" />
<line x1="385.2" y1="667.1" x2="390" y2="667.1" stroke="#2aec1a" stroke-width="1.6" />
<circle cx="387.6" cy="659.6" r="3.5" fill="#2aec1a"/>
<line x1="393.72" y1="655.2" x2="393.72" y2="670.2" stroke="#2aec1a" stroke-width="1.6" />
<line x1="391.32" y1="655.2" x2="396.12" y2="655.2" stroke="#2aec1a" stroke-width="1.6" />
<line x1="391.32" y1="670.2" x2="396.12" y2="670.2" stroke="#2aec1a" stroke-width="1.6" />
<circle cx="393.72" cy="662.7" r="3.5" fill="#2aec1a"/>
<line x1="399.84" y1="651.5" x2="399.84" y2="666.5" stroke="#2aec1a" stroke-width="1.6" />
<line x1="397.44" y1="651.5" x2="402.24" y2="651.5" stroke="#2aec1a" stroke-width="1.6" />
<line x1="397.44" y1="666.5" x2="402.24" y2="666.5" stroke="#2aec1a" stroke-width="1.6" />
<circle cx="399.84" cy="659" r="3.5" fill="#2aec1a"/>
<line x1="405.96" y1="664.5" x2="405.96" y2="679.5" stroke="#2aec1a" stroke-width="1.6" />
<line x1="403.56" y1="664.5" x2="408.36" y2="664.5" stroke="#2aec1a" stroke-width="1.6" />
<line x1="403.56" y1="679.5" x2="408.36" y2="679.5" stroke="#2aec1a" stroke-width="1.6" />
<circle cx="405.96" cy="672" r="3.5" fill="#2aec1a"/>
<line x1="412.09" y1="635.2" x2="412.09" y2="650.2" stroke="#2aec1a" stroke-width="1.6" />
<line x1="409.69" y1="635.2" x2="414.49" y2="635.2" stroke="#2aec1a" stroke-width="1.6" />
<line x1="409.69" y1="650.2" x2="414.49" y2="650.2" stroke="#2aec1a" stroke-width="1.6" />
<circle cx="412.09" cy="642.7" r="3.5" fill="#2aec1a"/>
<line x1="418.21" y1="671.5" x2="418.21" y2="686.5" stroke="#2aec1a" stroke-width="1.6" />
<line x1="415.81" y1="671.5" x2="420.61" y2="671.5" stroke="#2aec1a" stroke-width="1.6" />
<line x1="415.81" y1="686.5" x2="420.61" y2="686.5" stroke="#2aec1a" stroke-width="1.6" />
<circle cx="418.21" cy="679" r="3.5" fill="#2aec1a"/>
<line x1="424.33" y1="645.3" x2="424.33" y2="660.3" stroke="#2aec1a" stroke-width="1.6" />
<line x1="421.93" y1="645.3" x2="426.73" y2="645.3" stroke="#2aec1a" stroke-width="1.6" />
<line x1="421.93" y1="660.3" x2="426.73" y2="660.3" stroke="#2aec1a" stroke-width="1.6" />
<circle cx="424.33" cy="652.8" r="3.5" fill="#2aec1a"/>
<circle cx="436.58" cy="665.8" r="3.5" fill="#2aec1a"/>
<circle cx="442.7" cy="654.4" r="3.5" fill="#2aec1a"/>
<circle cx="448.82" cy="665.2" r="3.5" fill="#2aec1a"/>
<circle cx="454.94" cy="660.2" r="3.5" fill="#2aec1a"/>
<circle cx="461.07" cy="659" r="3.5" fill="#2aec1a"/>
<circle cx="467.19" cy="659" r="3.5" fill="#2aec1a"/>
<circle cx="473.31" cy="662.7" r="3.5" fill="#2aec1a"/>
<circle cx="485.56" cy="662.1" r="3.5" fill="#2aec1a"/>
<circle cx="497.8" cy="661.2" r="3.5" fill="#2aec1a"/>
<line x1="95.6" y1="661" x2="514.6" y2="661" stroke="#000" stroke-width="1.8" stroke-dasharray="6.5 6.96"/>
<text x="481" y="411.8" font-family="Liberation Sans, Arial, sans-serif" font-size="23" font-weight="bold" text-anchor="middle" fill="#000" >(b)</text>
<line x1="259.6" y1="531" x2="259.6" y2="558.4" stroke="#000" stroke-width="2" />
<line x1="254" y1="531" x2="265.2" y2="531" stroke="#000" stroke-width="2.1" />
<line x1="254" y1="558.4" x2="265.2" y2="558.4" stroke="#000" stroke-width="2.1" />
<circle cx="259.6" cy="544.6" r="5.4" fill="#000"/>
<text x="282.5" y="553.2" font-family="Liberation Sans, Arial, sans-serif" font-size="23.4" font-weight="bold" text-anchor="start" fill="#000" >EXP</text>
<rect x="247" y="582.6" width="24.5" height="4.4" fill="#1f9d1f"/>
<text x="283.2" y="591.5" font-family="Liberation Sans, Arial, sans-serif" font-size="23.4" font-weight="bold" text-anchor="start" fill="#1f9d1f" >RECON</text>
<line x1="107.34" y1="768.8" x2="107.34" y2="771.6" stroke="#000" stroke-width="1.3" />
<line x1="107.34" y1="1010.6" x2="107.34" y2="1007.8" stroke="#000" stroke-width="1.3" />
<line x1="137.93" y1="768.8" x2="137.93" y2="771.6" stroke="#000" stroke-width="1.3" />
<line x1="137.93" y1="1010.6" x2="137.93" y2="1007.8" stroke="#000" stroke-width="1.3" />
<line x1="168.51" y1="768.8" x2="168.51" y2="771.6" stroke="#000" stroke-width="1.3" />
<line x1="168.51" y1="1010.6" x2="168.51" y2="1007.8" stroke="#000" stroke-width="1.3" />
<line x1="199.1" y1="768.8" x2="199.1" y2="774" stroke="#000" stroke-width="1.3" />
<line x1="199.1" y1="1010.6" x2="199.1" y2="1005.4" stroke="#000" stroke-width="1.3" />
<line x1="199.1" y1="1081.9" x2="199.1" y2="1079.9" stroke="#000" stroke-width="1.3" />
<line x1="229.69" y1="768.8" x2="229.69" y2="771.6" stroke="#000" stroke-width="1.3" />
<line x1="229.69" y1="1010.6" x2="229.69" y2="1007.8" stroke="#000" stroke-width="1.3" />
<line x1="260.27" y1="768.8" x2="260.27" y2="771.6" stroke="#000" stroke-width="1.3" />
<line x1="260.27" y1="1010.6" x2="260.27" y2="1007.8" stroke="#000" stroke-width="1.3" />
<line x1="290.86" y1="768.8" x2="290.86" y2="771.6" stroke="#000" stroke-width="1.3" />
<line x1="290.86" y1="1010.6" x2="290.86" y2="1007.8" stroke="#000" stroke-width="1.3" />
<line x1="321.45" y1="768.8" x2="321.45" y2="774" stroke="#000" stroke-width="1.3" />
<line x1="321.45" y1="1010.6" x2="321.45" y2="1005.4" stroke="#000" stroke-width="1.3" />
<line x1="321.45" y1="1081.9" x2="321.45" y2="1079.9" stroke="#000" stroke-width="1.3" />
<line x1="352.04" y1="768.8" x2="352.04" y2="771.6" stroke="#000" stroke-width="1.3" />
<line x1="352.04" y1="1010.6" x2="352.04" y2="1007.8" stroke="#000" stroke-width="1.3" />
<line x1="382.62" y1="768.8" x2="382.62" y2="771.6" stroke="#000" stroke-width="1.3" />
<line x1="382.62" y1="1010.6" x2="382.62" y2="1007.8" stroke="#000" stroke-width="1.3" />
<line x1="413.21" y1="768.8" x2="413.21" y2="771.6" stroke="#000" stroke-width="1.3" />
<line x1="413.21" y1="1010.6" x2="413.21" y2="1007.8" stroke="#000" stroke-width="1.3" />
<line x1="443.8" y1="768.8" x2="443.8" y2="774" stroke="#000" stroke-width="1.3" />
<line x1="443.8" y1="1010.6" x2="443.8" y2="1005.4" stroke="#000" stroke-width="1.3" />
<line x1="443.8" y1="1081.9" x2="443.8" y2="1079.9" stroke="#000" stroke-width="1.3" />
<line x1="474.39" y1="768.8" x2="474.39" y2="771.6" stroke="#000" stroke-width="1.3" />
<line x1="474.39" y1="1010.6" x2="474.39" y2="1007.8" stroke="#000" stroke-width="1.3" />
<line x1="504.97" y1="768.8" x2="504.97" y2="771.6" stroke="#000" stroke-width="1.3" />
<line x1="504.97" y1="1010.6" x2="504.97" y2="1007.8" stroke="#000" stroke-width="1.3" />
<line x1="82.9" y1="1010.1" x2="90.4" y2="1010.1" stroke="#000" stroke-width="1.3" />
<line x1="516.6" y1="1010.1" x2="509.1" y2="1010.1" stroke="#000" stroke-width="1.3" />
<line x1="82.9" y1="1006.56" x2="86.9" y2="1006.56" stroke="#000" stroke-width="1.3" />
<line x1="516.6" y1="1006.56" x2="512.6" y2="1006.56" stroke="#000" stroke-width="1.3" />
<line x1="82.9" y1="1003.02" x2="86.9" y2="1003.02" stroke="#000" stroke-width="1.3" />
<line x1="516.6" y1="1003.02" x2="512.6" y2="1003.02" stroke="#000" stroke-width="1.3" />
<line x1="82.9" y1="999.48" x2="86.9" y2="999.48" stroke="#000" stroke-width="1.3" />
<line x1="516.6" y1="999.48" x2="512.6" y2="999.48" stroke="#000" stroke-width="1.3" />
<line x1="82.9" y1="995.94" x2="86.9" y2="995.94" stroke="#000" stroke-width="1.3" />
<line x1="516.6" y1="995.94" x2="512.6" y2="995.94" stroke="#000" stroke-width="1.3" />
<line x1="82.9" y1="992.4" x2="86.9" y2="992.4" stroke="#000" stroke-width="1.3" />
<line x1="516.6" y1="992.4" x2="512.6" y2="992.4" stroke="#000" stroke-width="1.3" />
<line x1="82.9" y1="988.86" x2="86.9" y2="988.86" stroke="#000" stroke-width="1.3" />
<line x1="516.6" y1="988.86" x2="512.6" y2="988.86" stroke="#000" stroke-width="1.3" />
<line x1="82.9" y1="985.32" x2="86.9" y2="985.32" stroke="#000" stroke-width="1.3" />
<line x1="516.6" y1="985.32" x2="512.6" y2="985.32" stroke="#000" stroke-width="1.3" />
<line x1="82.9" y1="981.78" x2="86.9" y2="981.78" stroke="#000" stroke-width="1.3" />
<line x1="516.6" y1="981.78" x2="512.6" y2="981.78" stroke="#000" stroke-width="1.3" />
<line x1="82.9" y1="978.24" x2="86.9" y2="978.24" stroke="#000" stroke-width="1.3" />
<line x1="516.6" y1="978.24" x2="512.6" y2="978.24" stroke="#000" stroke-width="1.3" />
<line x1="82.9" y1="974.7" x2="90.4" y2="974.7" stroke="#000" stroke-width="1.3" />
<line x1="516.6" y1="974.7" x2="509.1" y2="974.7" stroke="#000" stroke-width="1.3" />
<line x1="82.9" y1="971.16" x2="86.9" y2="971.16" stroke="#000" stroke-width="1.3" />
<line x1="516.6" y1="971.16" x2="512.6" y2="971.16" stroke="#000" stroke-width="1.3" />
<line x1="82.9" y1="967.62" x2="86.9" y2="967.62" stroke="#000" stroke-width="1.3" />
<line x1="516.6" y1="967.62" x2="512.6" y2="967.62" stroke="#000" stroke-width="1.3" />
<line x1="82.9" y1="964.08" x2="86.9" y2="964.08" stroke="#000" stroke-width="1.3" />
<line x1="516.6" y1="964.08" x2="512.6" y2="964.08" stroke="#000" stroke-width="1.3" />
<line x1="82.9" y1="960.54" x2="86.9" y2="960.54" stroke="#000" stroke-width="1.3" />
<line x1="516.6" y1="960.54" x2="512.6" y2="960.54" stroke="#000" stroke-width="1.3" />
<line x1="82.9" y1="957" x2="86.9" y2="957" stroke="#000" stroke-width="1.3" />
<line x1="516.6" y1="957" x2="512.6" y2="957" stroke="#000" stroke-width="1.3" />
<line x1="82.9" y1="953.46" x2="86.9" y2="953.46" stroke="#000" stroke-width="1.3" />
<line x1="516.6" y1="953.46" x2="512.6" y2="953.46" stroke="#000" stroke-width="1.3" />
<line x1="82.9" y1="949.92" x2="86.9" y2="949.92" stroke="#000" stroke-width="1.3" />
<line x1="516.6" y1="949.92" x2="512.6" y2="949.92" stroke="#000" stroke-width="1.3" />
<line x1="82.9" y1="946.38" x2="86.9" y2="946.38" stroke="#000" stroke-width="1.3" />
<line x1="516.6" y1="946.38" x2="512.6" y2="946.38" stroke="#000" stroke-width="1.3" />
<line x1="82.9" y1="942.84" x2="86.9" y2="942.84" stroke="#000" stroke-width="1.3" />
<line x1="516.6" y1="942.84" x2="512.6" y2="942.84" stroke="#000" stroke-width="1.3" />
<line x1="82.9" y1="939.3" x2="90.4" y2="939.3" stroke="#000" stroke-width="1.3" />
<line x1="516.6" y1="939.3" x2="509.1" y2="939.3" stroke="#000" stroke-width="1.3" />
<line x1="82.9" y1="935.76" x2="86.9" y2="935.76" stroke="#000" stroke-width="1.3" />
<line x1="516.6" y1="935.76" x2="512.6" y2="935.76" stroke="#000" stroke-width="1.3" />
<line x1="82.9" y1="932.22" x2="86.9" y2="932.22" stroke="#000" stroke-width="1.3" />
<line x1="516.6" y1="932.22" x2="512.6" y2="932.22" stroke="#000" stroke-width="1.3" />
<line x1="82.9" y1="928.68" x2="86.9" y2="928.68" stroke="#000" stroke-width="1.3" />
<line x1="516.6" y1="928.68" x2="512.6" y2="928.68" stroke="#000" stroke-width="1.3" />
<line x1="82.9" y1="925.14" x2="86.9" y2="925.14" stroke="#000" stroke-width="1.3" />
<line x1="516.6" y1="925.14" x2="512.6" y2="925.14" stroke="#000" stroke-width="1.3" />
<line x1="82.9" y1="921.6" x2="86.9" y2="921.6" stroke="#000" stroke-width="1.3" />
<line x1="516.6" y1="921.6" x2="512.6" y2="921.6" stroke="#000" stroke-width="1.3" />
<line x1="82.9" y1="918.06" x2="86.9" y2="918.06" stroke="#000" stroke-width="1.3" />
<line x1="516.6" y1="918.06" x2="512.6" y2="918.06" stroke="#000" stroke-width="1.3" />
<line x1="82.9" y1="914.52" x2="86.9" y2="914.52" stroke="#000" stroke-width="1.3" />
<line x1="516.6" y1="914.52" x2="512.6" y2="914.52" stroke="#000" stroke-width="1.3" />
<line x1="82.9" y1="910.98" x2="86.9" y2="910.98" stroke="#000" stroke-width="1.3" />
<line x1="516.6" y1="910.98" x2="512.6" y2="910.98" stroke="#000" stroke-width="1.3" />
<line x1="82.9" y1="907.44" x2="86.9" y2="907.44" stroke="#000" stroke-width="1.3" />
<line x1="516.6" y1="907.44" x2="512.6" y2="907.44" stroke="#000" stroke-width="1.3" />
<line x1="82.9" y1="903.9" x2="90.4" y2="903.9" stroke="#000" stroke-width="1.3" />
<line x1="516.6" y1="903.9" x2="509.1" y2="903.9" stroke="#000" stroke-width="1.3" />
<line x1="82.9" y1="900.36" x2="86.9" y2="900.36" stroke="#000" stroke-width="1.3" />
<line x1="516.6" y1="900.36" x2="512.6" y2="900.36" stroke="#000" stroke-width="1.3" />
<line x1="82.9" y1="896.82" x2="86.9" y2="896.82" stroke="#000" stroke-width="1.3" />
<line x1="516.6" y1="896.82" x2="512.6" y2="896.82" stroke="#000" stroke-width="1.3" />
<line x1="82.9" y1="893.28" x2="86.9" y2="893.28" stroke="#000" stroke-width="1.3" />
<line x1="516.6" y1="893.28" x2="512.6" y2="893.28" stroke="#000" stroke-width="1.3" />
<line x1="82.9" y1="889.74" x2="86.9" y2="889.74" stroke="#000" stroke-width="1.3" />
<line x1="516.6" y1="889.74" x2="512.6" y2="889.74" stroke="#000" stroke-width="1.3" />
<line x1="82.9" y1="886.2" x2="86.9" y2="886.2" stroke="#000" stroke-width="1.3" />
<line x1="516.6" y1="886.2" x2="512.6" y2="886.2" stroke="#000" stroke-width="1.3" />
<line x1="82.9" y1="882.66" x2="86.9" y2="882.66" stroke="#000" stroke-width="1.3" />
<line x1="516.6" y1="882.66" x2="512.6" y2="882.66" stroke="#000" stroke-width="1.3" />
<line x1="82.9" y1="879.12" x2="86.9" y2="879.12" stroke="#000" stroke-width="1.3" />
<line x1="516.6" y1="879.12" x2="512.6" y2="879.12" stroke="#000" stroke-width="1.3" />
<line x1="82.9" y1="875.58" x2="86.9" y2="875.58" stroke="#000" stroke-width="1.3" />
<line x1="516.6" y1="875.58" x2="512.6" y2="875.58" stroke="#000" stroke-width="1.3" />
<line x1="82.9" y1="872.04" x2="86.9" y2="872.04" stroke="#000" stroke-width="1.3" />
<line x1="516.6" y1="872.04" x2="512.6" y2="872.04" stroke="#000" stroke-width="1.3" />
<line x1="82.9" y1="868.5" x2="90.4" y2="868.5" stroke="#000" stroke-width="1.3" />
<line x1="516.6" y1="868.5" x2="509.1" y2="868.5" stroke="#000" stroke-width="1.3" />
<line x1="82.9" y1="864.96" x2="86.9" y2="864.96" stroke="#000" stroke-width="1.3" />
<line x1="516.6" y1="864.96" x2="512.6" y2="864.96" stroke="#000" stroke-width="1.3" />
<line x1="82.9" y1="861.42" x2="86.9" y2="861.42" stroke="#000" stroke-width="1.3" />
<line x1="516.6" y1="861.42" x2="512.6" y2="861.42" stroke="#000" stroke-width="1.3" />
<line x1="82.9" y1="857.88" x2="86.9" y2="857.88" stroke="#000" stroke-width="1.3" />
<line x1="516.6" y1="857.88" x2="512.6" y2="857.88" stroke="#000" stroke-width="1.3" />
<line x1="82.9" y1="854.34" x2="86.9" y2="854.34" stroke="#000" stroke-width="1.3" />
<line x1="516.6" y1="854.34" x2="512.6" y2="854.34" stroke="#000" stroke-width="1.3" />
<line x1="82.9" y1="850.8" x2="86.9" y2="850.8" stroke="#000" stroke-width="1.3" />
<line x1="516.6" y1="850.8" x2="512.6" y2="850.8" stroke="#000" stroke-width="1.3" />
<line x1="82.9" y1="847.26" x2="86.9" y2="847.26" stroke="#000" stroke-width="1.3" />
<line x1="516.6" y1="847.26" x2="512.6" y2="847.26" stroke="#000" stroke-width="1.3" />
<line x1="82.9" y1="843.72" x2="86.9" y2="843.72" stroke="#000" stroke-width="1.3" />
<line x1="516.6" y1="843.72" x2="512.6" y2="843.72" stroke="#000" stroke-width="1.3" />
<line x1="82.9" y1="840.18" x2="86.9" y2="840.18" stroke="#000" stroke-width="1.3" />
<line x1="516.6" y1="840.18" x2="512.6" y2="840.18" stroke="#000" stroke-width="1.3" />
<line x1="82.9" y1="836.64" x2="86.9" y2="836.64" stroke="#000" stroke-width="1.3" />
<line x1="516.6" y1="836.64" x2="512.6" y2="836.64" stroke="#000" stroke-width="1.3" />
<line x1="82.9" y1="833.1" x2="90.4" y2="833.1" stroke="#000" stroke-width="1.3" />
<line x1="516.6" y1="833.1" x2="509.1" y2="833.1" stroke="#000" stroke-width="1.3" />
<line x1="82.9" y1="829.56" x2="86.9" y2="829.56" stroke="#000" stroke-width="1.3" />
<line x1="516.6" y1="829.56" x2="512.6" y2="829.56" stroke="#000" stroke-width="1.3" />
<line x1="82.9" y1="826.02" x2="86.9" y2="826.02" stroke="#000" stroke-width="1.3" />
<line x1="516.6" y1="826.02" x2="512.6" y2="826.02" stroke="#000" stroke-width="1.3" />
<line x1="82.9" y1="822.48" x2="86.9" y2="822.48" stroke="#000" stroke-width="1.3" />
<line x1="516.6" y1="822.48" x2="512.6" y2="822.48" stroke="#000" stroke-width="1.3" />
<line x1="82.9" y1="818.94" x2="86.9" y2="818.94" stroke="#000" stroke-width="1.3" />
<line x1="516.6" y1="818.94" x2="512.6" y2="818.94" stroke="#000" stroke-width="1.3" />
<line x1="82.9" y1="815.4" x2="86.9" y2="815.4" stroke="#000" stroke-width="1.3" />
<line x1="516.6" y1="815.4" x2="512.6" y2="815.4" stroke="#000" stroke-width="1.3" />
<line x1="82.9" y1="811.86" x2="86.9" y2="811.86" stroke="#000" stroke-width="1.3" />
<line x1="516.6" y1="811.86" x2="512.6" y2="811.86" stroke="#000" stroke-width="1.3" />
<line x1="82.9" y1="808.32" x2="86.9" y2="808.32" stroke="#000" stroke-width="1.3" />
<line x1="516.6" y1="808.32" x2="512.6" y2="808.32" stroke="#000" stroke-width="1.3" />
<line x1="82.9" y1="804.78" x2="86.9" y2="804.78" stroke="#000" stroke-width="1.3" />
<line x1="516.6" y1="804.78" x2="512.6" y2="804.78" stroke="#000" stroke-width="1.3" />
<line x1="82.9" y1="801.24" x2="86.9" y2="801.24" stroke="#000" stroke-width="1.3" />
<line x1="516.6" y1="801.24" x2="512.6" y2="801.24" stroke="#000" stroke-width="1.3" />
<line x1="82.9" y1="797.7" x2="90.4" y2="797.7" stroke="#000" stroke-width="1.3" />
<line x1="516.6" y1="797.7" x2="509.1" y2="797.7" stroke="#000" stroke-width="1.3" />
<line x1="82.9" y1="794.16" x2="86.9" y2="794.16" stroke="#000" stroke-width="1.3" />
<line x1="516.6" y1="794.16" x2="512.6" y2="794.16" stroke="#000" stroke-width="1.3" />
<line x1="82.9" y1="790.62" x2="86.9" y2="790.62" stroke="#000" stroke-width="1.3" />
<line x1="516.6" y1="790.62" x2="512.6" y2="790.62" stroke="#000" stroke-width="1.3" />
<line x1="82.9" y1="787.08" x2="86.9" y2="787.08" stroke="#000" stroke-width="1.3" />
<line x1="516.6" y1="787.08" x2="512.6" y2="787.08" stroke="#000" stroke-width="1.3" />
<line x1="82.9" y1="783.54" x2="86.9" y2="783.54" stroke="#000" stroke-width="1.3" />
<line x1="516.6" y1="783.54" x2="512.6" y2="783.54" stroke="#000" stroke-width="1.3" />
<line x1="82.9" y1="780" x2="86.9" y2="780" stroke="#000" stroke-width="1.3" />
<line x1="516.6" y1="780" x2="512.6" y2="780" stroke="#000" stroke-width="1.3" />
<line x1="82.9" y1="776.46" x2="86.9" y2="776.46" stroke="#000" stroke-width="1.3" />
<line x1="516.6" y1="776.46" x2="512.6" y2="776.46" stroke="#000" stroke-width="1.3" />
<line x1="82.9" y1="772.92" x2="86.9" y2="772.92" stroke="#000" stroke-width="1.3" />
<line x1="516.6" y1="772.92" x2="512.6" y2="772.92" stroke="#000" stroke-width="1.3" />
<line x1="82.9" y1="769.38" x2="86.9" y2="769.38" stroke="#000" stroke-width="1.3" />
<line x1="516.6" y1="769.38" x2="512.6" y2="769.38" stroke="#000" stroke-width="1.3" />
<rect x="82.9" y="1010.6" width="4.4" height="71.3" fill="#000"/>
<rect x="512.2" y="1010.6" width="4.4" height="71.3" fill="#000"/>
<line x1="82.9" y1="1064.7" x2="90.9" y2="1064.7" stroke="#000" stroke-width="1.3" />
<line x1="516.6" y1="1064.7" x2="508.6" y2="1064.7" stroke="#000" stroke-width="1.3" />
<line x1="82.9" y1="1046.6" x2="90.9" y2="1046.6" stroke="#000" stroke-width="1.3" />
<line x1="516.6" y1="1046.6" x2="508.6" y2="1046.6" stroke="#000" stroke-width="1.3" />
<line x1="82.9" y1="1028.5" x2="90.9" y2="1028.5" stroke="#000" stroke-width="1.3" />
<line x1="516.6" y1="1028.5" x2="508.6" y2="1028.5" stroke="#000" stroke-width="1.3" />
<text x="78.6" y="1012.4" font-family="Liberation Sans, Arial, sans-serif" font-size="14" font-weight="normal" text-anchor="end" fill="#000" >0.0</text>
<text x="78.6" y="980" font-family="Liberation Sans, Arial, sans-serif" font-size="14" font-weight="normal" text-anchor="end" fill="#000" >0.1</text>
<text x="78.6" y="944.6" font-family="Liberation Sans, Arial, sans-serif" font-size="14" font-weight="normal" text-anchor="end" fill="#000" >0.2</text>
<text x="78.6" y="909.2" font-family="Liberation Sans, Arial, sans-serif" font-size="14" font-weight="normal" text-anchor="end" fill="#000" >0.3</text>
<text x="78.6" y="873.8" font-family="Liberation Sans, Arial, sans-serif" font-size="14" font-weight="normal" text-anchor="end" fill="#000" >0.4</text>
<text x="78.6" y="838.4" font-family="Liberation Sans, Arial, sans-serif" font-size="14" font-weight="normal" text-anchor="end" fill="#000" >0.5</text>
<text x="78.6" y="803" font-family="Liberation Sans, Arial, sans-serif" font-size="14" font-weight="normal" text-anchor="end" fill="#000" >0.6</text>
<text x="78.6" y="1033.8" font-family="Liberation Sans, Arial, sans-serif" font-size="14" font-weight="normal" text-anchor="end" fill="#000" >0.01</text>
<text x="78.6" y="1051.9" font-family="Liberation Sans, Arial, sans-serif" font-size="14" font-weight="normal" text-anchor="end" fill="#000" >0.00</text>
<text x="78.6" y="1070" font-family="Liberation Sans, Arial, sans-serif" font-size="14" font-weight="normal" text-anchor="end" fill="#000" >-0.01</text>
<text x="199.1" y="1028.6" font-family="Liberation Sans, Arial, sans-serif" font-size="14" font-weight="normal" text-anchor="middle" fill="#000" >20</text>
<text x="199.1" y="1099.9" font-family="Liberation Sans, Arial, sans-serif" font-size="14" font-weight="normal" text-anchor="middle" fill="#000" >20</text>
<text x="321.45" y="1028.6" font-family="Liberation Sans, Arial, sans-serif" font-size="14" font-weight="normal" text-anchor="middle" fill="#000" >40</text>
<text x="321.45" y="1099.9" font-family="Liberation Sans, Arial, sans-serif" font-size="14" font-weight="normal" text-anchor="middle" fill="#000" >40</text>
<text x="443.8" y="1028.6" font-family="Liberation Sans, Arial, sans-serif" font-size="14" font-weight="normal" text-anchor="middle" fill="#000" >60</text>
<text x="443.8" y="1099.9" font-family="Liberation Sans, Arial, sans-serif" font-size="14" font-weight="normal" text-anchor="middle" fill="#000" >60</text>
<rect x="82.9" y="768.8" width="433.7" height="241.8" fill="none" stroke="#000" stroke-width="1.7"/>
<rect x="82.9" y="1010.6" width="433.7" height="71.3" fill="none" stroke="#000" stroke-width="1.7"/>
<text x="296.5" y="1126.4" font-family="Liberation Sans, Arial, sans-serif" font-size="21.5" font-weight="bold" text-anchor="middle" fill="#000" >CH#</text>
<g clip-path="url(#cC)">
<line x1="88.98" y1="768" x2="88.98" y2="1011" stroke="#000" stroke-width="1.7" />
<line x1="95.1" y1="768" x2="95.1" y2="1011" stroke="#000" stroke-width="1.7" />
<line x1="101.22" y1="768" x2="101.22" y2="1011" stroke="#000" stroke-width="1.7" />
<circle cx="137.93" cy="1007" r="3.9" fill="#000"/>
<circle cx="150.16" cy="1004.6" r="3.9" fill="#000"/>
<circle cx="156.28" cy="1006.2" r="3.9" fill="#000"/>
<circle cx="162.39" cy="1001" r="3.9" fill="#000"/>
<circle cx="168.51" cy="1000" r="3.9" fill="#000"/>
<circle cx="174.63" cy="993.8" r="3.9" fill="#000"/>
<circle cx="180.75" cy="992.3" r="3.9" fill="#000"/>
<circle cx="192.98" cy="976.6" r="3.9" fill="#000"/>
<circle cx="199.1" cy="971.8" r="3.9" fill="#000"/>
<circle cx="205.22" cy="963.6" r="3.9" fill="#000"/>
<circle cx="229.69" cy="857" r="3.9" fill="#000"/>
<circle cx="235.81" cy="846.2" r="3.9" fill="#000"/>
<circle cx="241.92" cy="830.2" r="3.9" fill="#000"/>
<circle cx="248.04" cy="824.6" r="3.9" fill="#000"/>
<circle cx="254.16" cy="823.7" r="3.9" fill="#000"/>
<circle cx="260.27" cy="812.9" r="3.9" fill="#000"/>
<circle cx="266.39" cy="793.8" r="3.9" fill="#000"/>
<circle cx="272.51" cy="791.7" r="3.9" fill="#000"/>
<circle cx="278.63" cy="784" r="3.9" fill="#000"/>
<circle cx="284.75" cy="782.2" r="3.9" fill="#000"/>
<circle cx="290.86" cy="785.2" r="3.9" fill="#000"/>
<circle cx="296.98" cy="781.5" r="3.9" fill="#000"/>
<circle cx="303.1" cy="782.5" r="3.9" fill="#000"/>
<circle cx="309.21" cy="793.2" r="3.9" fill="#000"/>
<circle cx="315.33" cy="790.8" r="3.9" fill="#000"/>
<circle cx="339.8" cy="795" r="3.9" fill="#000"/>
<circle cx="345.92" cy="807.2" r="3.9" fill="#000"/>
<circle cx="352.04" cy="806.7" r="3.9" fill="#000"/>
<circle cx="358.15" cy="813.3" r="3.9" fill="#000"/>
<circle cx="364.27" cy="827.5" r="3.9" fill="#000"/>
<circle cx="370.39" cy="833.4" r="3.9" fill="#000"/>
<circle cx="376.51" cy="870.1" r="3.9" fill="#000"/>
<circle cx="382.62" cy="887.4" r="3.9" fill="#000"/>
<circle cx="388.74" cy="903.6" r="3.9" fill="#000"/>
<circle cx="394.86" cy="921" r="3.9" fill="#000"/>
<circle cx="400.98" cy="938.3" r="3.9" fill="#000"/>
<circle cx="407.09" cy="946.2" r="3.9" fill="#000"/>
<circle cx="413.21" cy="963.5" r="3.9" fill="#000"/>
<circle cx="419.33" cy="971.2" r="3.9" fill="#000"/>
<circle cx="425.45" cy="974.6" r="3.9" fill="#000"/>
<circle cx="437.68" cy="991.9" r="3.9" fill="#000"/>
<circle cx="443.8" cy="997.1" r="3.9" fill="#000"/>
<circle cx="449.92" cy="1000.6" r="3.9" fill="#000"/>
<circle cx="456.03" cy="1003.3" r="3.9" fill="#000"/>
<circle cx="462.15" cy="1004.7" r="3.9" fill="#000"/>
<circle cx="468.27" cy="1005.8" r="3.9" fill="#000"/>
<circle cx="474.39" cy="1006.8" r="3.9" fill="#000"/>
<circle cx="486.62" cy="1007.5" r="3.9" fill="#000"/>
<circle cx="498.86" cy="1008.5" r="3.9" fill="#000"/>
<circle cx="144.04" cy="1000" r="3.5" fill="#d6d6d6" stroke="#000" stroke-width="1.5"/>
<rect x="141.74" y="998.7" width="4.6" height="2.6" fill="#000"/>
<circle cx="186.87" cy="987.1" r="3.5" fill="#d6d6d6" stroke="#000" stroke-width="1.5"/>
<rect x="184.56" y="985.8" width="4.6" height="2.6" fill="#000"/>
<circle cx="211.33" cy="959.9" r="3.5" fill="#d6d6d6" stroke="#000" stroke-width="1.5"/>
<rect x="209.03" y="958.6" width="4.6" height="2.6" fill="#000"/>
<circle cx="217.45" cy="949.2" r="3.5" fill="#d6d6d6" stroke="#000" stroke-width="1.5"/>
<rect x="215.15" y="947.9" width="4.6" height="2.6" fill="#000"/>
<circle cx="223.57" cy="935.9" r="3.5" fill="#d6d6d6" stroke="#000" stroke-width="1.5"/>
<rect x="221.27" y="934.6" width="4.6" height="2.6" fill="#000"/>
<circle cx="327.57" cy="771.7" r="3.5" fill="#d6d6d6" stroke="#000" stroke-width="1.5"/>
<rect x="325.27" y="770.4" width="4.6" height="2.6" fill="#000"/>
<circle cx="431.56" cy="997.1" r="3.5" fill="#d6d6d6" stroke="#000" stroke-width="1.5"/>
<rect x="429.26" y="995.8" width="4.6" height="2.6" fill="#000"/>
<circle cx="107.34" cy="1009.8" r="3.2" fill="#fff" stroke="#000" stroke-width="1.05"/>
<circle cx="113.45" cy="1009.8" r="3.2" fill="#fff" stroke="#000" stroke-width="1.05"/>
<circle cx="119.57" cy="1009.6" r="3.2" fill="#fff" stroke="#000" stroke-width="1.05"/>
<circle cx="125.69" cy="1009.4" r="3.2" fill="#fff" stroke="#000" stroke-width="1.05"/>
<circle cx="131.81" cy="1009.2" r="3.2" fill="#fff" stroke="#000" stroke-width="1.05"/>
<circle cx="480.5" cy="1007.5" r="3.2" fill="#fff" stroke="#000" stroke-width="1.05"/>
<circle cx="492.74" cy="1008.2" r="3.2" fill="#fff" stroke="#000" stroke-width="1.05"/>
<circle cx="504.97" cy="1008.5" r="3.2" fill="#fff" stroke="#000" stroke-width="1.05"/>
<circle cx="511.09" cy="1008.5" r="3.2" fill="#fff" stroke="#000" stroke-width="1.05"/>
<path d="M140,1008.3 L150,1006.5 L163,1004.6 L170,1000.5 L176,996 L182,992 L187.7,986.2 L194,978 L200,969.5 L205.4,960.4 L209.2,944 L213.1,927.7 L215,920 L220,900 L224.6,876 L226.2,870 L229.2,859.2 L235.4,846.9 L243.1,833.1 L250.8,822.3 L258.5,811.5 L264.6,800 L270.8,793.1 L278.5,786.9 L284.6,784.6 L292,784 L296,784 L302.7,785.4 L310.4,788.5 L318.1,791.5 L325.8,795.4 L333.5,799.2 L341.2,802.3 L347.3,805.4 L351.9,808.5 L356.5,814.6 L362.7,823.8 L368.8,831.5 L370.4,834.6 L371.9,843.8 L374.2,862.3 L375.2,868 L382,888 L388,905 L395.4,922.7 L405,945 L414.4,964.2 L420,972 L426.5,978 L435,990 L443.8,998.8 L452,1002.5 L461.2,1005.8 L473,1008 L485.4,1010" fill="none" stroke="#3cc935" stroke-width="2.0" stroke-linejoin="round" />
<path d="M189,1008.9 L200,1008.5 L210,1007.6 L220,1005.5 L230,1003 L238,1001.9 L250,1001.5 L340,1001.5 L360,1001.6 L380,1002.8 L402,1005.8 L420,1009.2 L430,1010.5" fill="none" stroke="#4fd83f" stroke-width="1.8" stroke-linejoin="round" stroke-dasharray="6 4.2 1.6 3.2"/>
</g>
<line x1="137.93" y1="1043.5" x2="137.93" y2="1049.5" stroke="#2aec1a" stroke-width="1.6" />
<line x1="135.53" y1="1043.5" x2="140.33" y2="1043.5" stroke="#2aec1a" stroke-width="1.6" />
<line x1="135.53" y1="1049.5" x2="140.33" y2="1049.5" stroke="#2aec1a" stroke-width="1.6" />
<circle cx="137.93" cy="1046.5" r="3.5" fill="#2aec1a"/>
<line x1="150.16" y1="1036.8" x2="150.16" y2="1042.8" stroke="#2aec1a" stroke-width="1.6" />
<line x1="147.76" y1="1036.8" x2="152.56" y2="1036.8" stroke="#2aec1a" stroke-width="1.6" />
<line x1="147.76" y1="1042.8" x2="152.56" y2="1042.8" stroke="#2aec1a" stroke-width="1.6" />
<circle cx="150.16" cy="1039.8" r="3.5" fill="#2aec1a"/>
<line x1="156.28" y1="1050.6" x2="156.28" y2="1056.6" stroke="#2aec1a" stroke-width="1.6" />
<line x1="153.88" y1="1050.6" x2="158.68" y2="1050.6" stroke="#2aec1a" stroke-width="1.6" />
<line x1="153.88" y1="1056.6" x2="158.68" y2="1056.6" stroke="#2aec1a" stroke-width="1.6" />
<circle cx="156.28" cy="1053.6" r="3.5" fill="#2aec1a"/>
<line x1="162.39" y1="1041.4" x2="162.39" y2="1047.4" stroke="#2aec1a" stroke-width="1.6" />
<line x1="159.99" y1="1041.4" x2="164.79" y2="1041.4" stroke="#2aec1a" stroke-width="1.6" />
<line x1="159.99" y1="1047.4" x2="164.79" y2="1047.4" stroke="#2aec1a" stroke-width="1.6" />
<circle cx="162.39" cy="1044.4" r="3.5" fill="#2aec1a"/>
<line x1="168.51" y1="1044.5" x2="168.51" y2="1050.5" stroke="#2aec1a" stroke-width="1.6" />
<line x1="166.11" y1="1044.5" x2="170.91" y2="1044.5" stroke="#2aec1a" stroke-width="1.6" />
<line x1="166.11" y1="1050.5" x2="170.91" y2="1050.5" stroke="#2aec1a" stroke-width="1.6" />
<circle cx="168.51" cy="1047.5" r="3.5" fill="#2aec1a"/>
<line x1="174.63" y1="1036.8" x2="174.63" y2="1042.8" stroke="#2aec1a" stroke-width="1.6" />
<line x1="172.23" y1="1036.8" x2="177.03" y2="1036.8" stroke="#2aec1a" stroke-width="1.6" />
<line x1="172.23" y1="1042.8" x2="177.03" y2="1042.8" stroke="#2aec1a" stroke-width="1.6" />
<circle cx="174.63" cy="1039.8" r="3.5" fill="#2aec1a"/>
<line x1="180.75" y1="1046.6" x2="180.75" y2="1052.6" stroke="#2aec1a" stroke-width="1.6" />
<line x1="178.35" y1="1046.6" x2="183.15" y2="1046.6" stroke="#2aec1a" stroke-width="1.6" />
<line x1="178.35" y1="1052.6" x2="183.15" y2="1052.6" stroke="#2aec1a" stroke-width="1.6" />
<circle cx="180.75" cy="1049.6" r="3.5" fill="#2aec1a"/>
<line x1="192.98" y1="1033.4" x2="192.98" y2="1039.4" stroke="#2aec1a" stroke-width="1.6" />
<line x1="190.58" y1="1033.4" x2="195.38" y2="1033.4" stroke="#2aec1a" stroke-width="1.6" />
<line x1="190.58" y1="1039.4" x2="195.38" y2="1039.4" stroke="#2aec1a" stroke-width="1.6" />
<circle cx="192.98" cy="1036.4" r="3.5" fill="#2aec1a"/>
<line x1="199.1" y1="1045.1" x2="199.1" y2="1051.1" stroke="#2aec1a" stroke-width="1.6" />
<line x1="196.7" y1="1045.1" x2="201.5" y2="1045.1" stroke="#2aec1a" stroke-width="1.6" />
<line x1="196.7" y1="1051.1" x2="201.5" y2="1051.1" stroke="#2aec1a" stroke-width="1.6" />
<circle cx="199.1" cy="1048.1" r="3.5" fill="#2aec1a"/>
<line x1="205.22" y1="1058.9" x2="205.22" y2="1064.9" stroke="#2aec1a" stroke-width="1.6" />
<line x1="202.82" y1="1058.9" x2="207.62" y2="1058.9" stroke="#2aec1a" stroke-width="1.6" />
<line x1="202.82" y1="1064.9" x2="207.62" y2="1064.9" stroke="#2aec1a" stroke-width="1.6" />
<circle cx="205.22" cy="1061.9" r="3.5" fill="#2aec1a"/>
<line x1="229.69" y1="1033.8" x2="229.69" y2="1045.8" stroke="#2aec1a" stroke-width="1.6" />
<line x1="227.29" y1="1033.8" x2="232.09" y2="1033.8" stroke="#2aec1a" stroke-width="1.6" />
<line x1="227.29" y1="1045.8" x2="232.09" y2="1045.8" stroke="#2aec1a" stroke-width="1.6" />
<circle cx="229.69" cy="1039.8" r="3.5" fill="#2aec1a"/>
<line x1="235.81" y1="1043.6" x2="235.81" y2="1055.6" stroke="#2aec1a" stroke-width="1.6" />
<line x1="233.41" y1="1043.6" x2="238.21" y2="1043.6" stroke="#2aec1a" stroke-width="1.6" />
<line x1="233.41" y1="1055.6" x2="238.21" y2="1055.6" stroke="#2aec1a" stroke-width="1.6" />
<circle cx="235.81" cy="1049.6" r="3.5" fill="#2aec1a"/>
<line x1="241.92" y1="1011.3" x2="241.92" y2="1023.3" stroke="#2aec1a" stroke-width="1.6" />
<line x1="239.52" y1="1011.3" x2="244.32" y2="1011.3" stroke="#2aec1a" stroke-width="1.6" />
<line x1="239.52" y1="1023.3" x2="244.32" y2="1023.3" stroke="#2aec1a" stroke-width="1.6" />
<circle cx="241.92" cy="1017.3" r="3.5" fill="#2aec1a"/>
<line x1="248.04" y1="1046.7" x2="248.04" y2="1058.7" stroke="#2aec1a" stroke-width="1.6" />
<line x1="245.64" y1="1046.7" x2="250.44" y2="1046.7" stroke="#2aec1a" stroke-width="1.6" />
<line x1="245.64" y1="1058.7" x2="250.44" y2="1058.7" stroke="#2aec1a" stroke-width="1.6" />
<circle cx="248.04" cy="1052.7" r="3.5" fill="#2aec1a"/>
<line x1="254.16" y1="1072.8" x2="254.16" y2="1084.8" stroke="#2aec1a" stroke-width="1.6" />
<line x1="251.76" y1="1072.8" x2="256.56" y2="1072.8" stroke="#2aec1a" stroke-width="1.6" />
<line x1="251.76" y1="1084.8" x2="256.56" y2="1084.8" stroke="#2aec1a" stroke-width="1.6" />
<circle cx="254.16" cy="1078.8" r="3.5" fill="#2aec1a"/>
<line x1="260.27" y1="1057.5" x2="260.27" y2="1069.5" stroke="#2aec1a" stroke-width="1.6" />
<line x1="257.88" y1="1057.5" x2="262.67" y2="1057.5" stroke="#2aec1a" stroke-width="1.6" />
<line x1="257.88" y1="1069.5" x2="262.67" y2="1069.5" stroke="#2aec1a" stroke-width="1.6" />
<circle cx="260.27" cy="1063.5" r="3.5" fill="#2aec1a"/>
<line x1="266.39" y1="1019" x2="266.39" y2="1031" stroke="#2aec1a" stroke-width="1.6" />
<line x1="263.99" y1="1019" x2="268.79" y2="1019" stroke="#2aec1a" stroke-width="1.6" />
<line x1="263.99" y1="1031" x2="268.79" y2="1031" stroke="#2aec1a" stroke-width="1.6" />
<circle cx="266.39" cy="1025" r="3.5" fill="#2aec1a"/>
<line x1="272.51" y1="1042.1" x2="272.51" y2="1054.1" stroke="#2aec1a" stroke-width="1.6" />
<line x1="270.11" y1="1042.1" x2="274.91" y2="1042.1" stroke="#2aec1a" stroke-width="1.6" />
<line x1="270.11" y1="1054.1" x2="274.91" y2="1054.1" stroke="#2aec1a" stroke-width="1.6" />
<circle cx="272.51" cy="1048.1" r="3.5" fill="#2aec1a"/>
<line x1="278.63" y1="1023.6" x2="278.63" y2="1035.6" stroke="#2aec1a" stroke-width="1.6" />
<line x1="276.23" y1="1023.6" x2="281.03" y2="1023.6" stroke="#2aec1a" stroke-width="1.6" />
<line x1="276.23" y1="1035.6" x2="281.03" y2="1035.6" stroke="#2aec1a" stroke-width="1.6" />
<circle cx="278.63" cy="1029.6" r="3.5" fill="#2aec1a"/>
<line x1="284.75" y1="1030.4" x2="284.75" y2="1042.4" stroke="#2aec1a" stroke-width="1.6" />
<line x1="282.35" y1="1030.4" x2="287.14" y2="1030.4" stroke="#2aec1a" stroke-width="1.6" />
<line x1="282.35" y1="1042.4" x2="287.14" y2="1042.4" stroke="#2aec1a" stroke-width="1.6" />
<circle cx="284.75" cy="1036.4" r="3.5" fill="#2aec1a"/>
<line x1="290.86" y1="1045.8" x2="290.86" y2="1057.8" stroke="#2aec1a" stroke-width="1.6" />
<line x1="288.46" y1="1045.8" x2="293.26" y2="1045.8" stroke="#2aec1a" stroke-width="1.6" />
<line x1="288.46" y1="1057.8" x2="293.26" y2="1057.8" stroke="#2aec1a" stroke-width="1.6" />
<circle cx="290.86" cy="1051.8" r="3.5" fill="#2aec1a"/>
<line x1="296.98" y1="1030.7" x2="296.98" y2="1042.7" stroke="#2aec1a" stroke-width="1.6" />
<line x1="294.58" y1="1030.7" x2="299.38" y2="1030.7" stroke="#2aec1a" stroke-width="1.6" />
<line x1="294.58" y1="1042.7" x2="299.38" y2="1042.7" stroke="#2aec1a" stroke-width="1.6" />
<circle cx="296.98" cy="1036.7" r="3.5" fill="#2aec1a"/>
<line x1="303.1" y1="1028.8" x2="303.1" y2="1040.8" stroke="#2aec1a" stroke-width="1.6" />
<line x1="300.7" y1="1028.8" x2="305.5" y2="1028.8" stroke="#2aec1a" stroke-width="1.6" />
<line x1="300.7" y1="1040.8" x2="305.5" y2="1040.8" stroke="#2aec1a" stroke-width="1.6" />
<circle cx="303.1" cy="1034.8" r="3.5" fill="#2aec1a"/>
<line x1="309.21" y1="1072.8" x2="309.21" y2="1084.8" stroke="#2aec1a" stroke-width="1.6" />
<line x1="306.81" y1="1072.8" x2="311.61" y2="1072.8" stroke="#2aec1a" stroke-width="1.6" />
<line x1="306.81" y1="1084.8" x2="311.61" y2="1084.8" stroke="#2aec1a" stroke-width="1.6" />
<circle cx="309.21" cy="1078.8" r="3.5" fill="#2aec1a"/>
<line x1="315.33" y1="1052.2" x2="315.33" y2="1064.2" stroke="#2aec1a" stroke-width="1.6" />
<line x1="312.93" y1="1052.2" x2="317.73" y2="1052.2" stroke="#2aec1a" stroke-width="1.6" />
<line x1="312.93" y1="1064.2" x2="317.73" y2="1064.2" stroke="#2aec1a" stroke-width="1.6" />
<circle cx="315.33" cy="1058.2" r="3.5" fill="#2aec1a"/>
<line x1="339.8" y1="1013.8" x2="339.8" y2="1025.8" stroke="#2aec1a" stroke-width="1.6" />
<line x1="337.4" y1="1013.8" x2="342.2" y2="1013.8" stroke="#2aec1a" stroke-width="1.6" />
<line x1="337.4" y1="1025.8" x2="342.2" y2="1025.8" stroke="#2aec1a" stroke-width="1.6" />
<circle cx="339.8" cy="1019.8" r="3.5" fill="#2aec1a"/>
<line x1="345.92" y1="1058.1" x2="345.92" y2="1070.1" stroke="#2aec1a" stroke-width="1.6" />
<line x1="343.52" y1="1058.1" x2="348.32" y2="1058.1" stroke="#2aec1a" stroke-width="1.6" />
<line x1="343.52" y1="1070.1" x2="348.32" y2="1070.1" stroke="#2aec1a" stroke-width="1.6" />
<circle cx="345.92" cy="1064.1" r="3.5" fill="#2aec1a"/>
<line x1="352.04" y1="1033.5" x2="352.04" y2="1045.5" stroke="#2aec1a" stroke-width="1.6" />
<line x1="349.64" y1="1033.5" x2="354.44" y2="1033.5" stroke="#2aec1a" stroke-width="1.6" />
<line x1="349.64" y1="1045.5" x2="354.44" y2="1045.5" stroke="#2aec1a" stroke-width="1.6" />
<circle cx="352.04" cy="1039.5" r="3.5" fill="#2aec1a"/>
<line x1="358.15" y1="1022.1" x2="358.15" y2="1034.1" stroke="#2aec1a" stroke-width="1.6" />
<line x1="355.75" y1="1022.1" x2="360.55" y2="1022.1" stroke="#2aec1a" stroke-width="1.6" />
<line x1="355.75" y1="1034.1" x2="360.55" y2="1034.1" stroke="#2aec1a" stroke-width="1.6" />
<circle cx="358.15" cy="1028.1" r="3.5" fill="#2aec1a"/>
<line x1="364.27" y1="1055.9" x2="364.27" y2="1067.9" stroke="#2aec1a" stroke-width="1.6" />
<line x1="361.87" y1="1055.9" x2="366.67" y2="1055.9" stroke="#2aec1a" stroke-width="1.6" />
<line x1="361.87" y1="1067.9" x2="366.67" y2="1067.9" stroke="#2aec1a" stroke-width="1.6" />
<circle cx="364.27" cy="1061.9" r="3.5" fill="#2aec1a"/>
<line x1="370.39" y1="1048.7" x2="370.39" y2="1060.7" stroke="#2aec1a" stroke-width="1.6" />
<line x1="367.99" y1="1048.7" x2="372.79" y2="1048.7" stroke="#2aec1a" stroke-width="1.6" />
<line x1="367.99" y1="1060.7" x2="372.79" y2="1060.7" stroke="#2aec1a" stroke-width="1.6" />
<circle cx="370.39" cy="1054.7" r="3.5" fill="#2aec1a"/>
<line x1="376.51" y1="1023" x2="376.51" y2="1035" stroke="#2aec1a" stroke-width="1.6" />
<line x1="374.11" y1="1023" x2="378.91" y2="1023" stroke="#2aec1a" stroke-width="1.6" />
<line x1="374.11" y1="1035" x2="378.91" y2="1035" stroke="#2aec1a" stroke-width="1.6" />
<circle cx="376.51" cy="1029" r="3.5" fill="#2aec1a"/>
<line x1="382.62" y1="1043.6" x2="382.62" y2="1055.6" stroke="#2aec1a" stroke-width="1.6" />
<line x1="380.23" y1="1043.6" x2="385.02" y2="1043.6" stroke="#2aec1a" stroke-width="1.6" />
<line x1="380.23" y1="1055.6" x2="385.02" y2="1055.6" stroke="#2aec1a" stroke-width="1.6" />
<circle cx="382.62" cy="1049.6" r="3.5" fill="#2aec1a"/>
<line x1="388.74" y1="1056.8" x2="388.74" y2="1068.8" stroke="#2aec1a" stroke-width="1.6" />
<line x1="386.34" y1="1056.8" x2="391.14" y2="1056.8" stroke="#2aec1a" stroke-width="1.6" />
<line x1="386.34" y1="1068.8" x2="391.14" y2="1068.8" stroke="#2aec1a" stroke-width="1.6" />
<circle cx="388.74" cy="1062.8" r="3.5" fill="#2aec1a"/>
<line x1="394.86" y1="1024.5" x2="394.86" y2="1036.5" stroke="#2aec1a" stroke-width="1.6" />
<line x1="392.46" y1="1024.5" x2="397.26" y2="1024.5" stroke="#2aec1a" stroke-width="1.6" />
<line x1="392.46" y1="1036.5" x2="397.26" y2="1036.5" stroke="#2aec1a" stroke-width="1.6" />
<circle cx="394.86" cy="1030.5" r="3.5" fill="#2aec1a"/>
<line x1="400.98" y1="1049.8" x2="400.98" y2="1061.8" stroke="#2aec1a" stroke-width="1.6" />
<line x1="398.58" y1="1049.8" x2="403.38" y2="1049.8" stroke="#2aec1a" stroke-width="1.6" />
<line x1="398.58" y1="1061.8" x2="403.38" y2="1061.8" stroke="#2aec1a" stroke-width="1.6" />
<circle cx="400.98" cy="1055.8" r="3.5" fill="#2aec1a"/>
<line x1="407.09" y1="1035.9" x2="407.09" y2="1047.9" stroke="#2aec1a" stroke-width="1.6" />
<line x1="404.69" y1="1035.9" x2="409.49" y2="1035.9" stroke="#2aec1a" stroke-width="1.6" />
<line x1="404.69" y1="1047.9" x2="409.49" y2="1047.9" stroke="#2aec1a" stroke-width="1.6" />
<circle cx="407.09" cy="1041.9" r="3.5" fill="#2aec1a"/>
<line x1="413.21" y1="1046.7" x2="413.21" y2="1058.7" stroke="#2aec1a" stroke-width="1.6" />
<line x1="410.81" y1="1046.7" x2="415.61" y2="1046.7" stroke="#2aec1a" stroke-width="1.6" />
<line x1="410.81" y1="1058.7" x2="415.61" y2="1058.7" stroke="#2aec1a" stroke-width="1.6" />
<circle cx="413.21" cy="1052.7" r="3.5" fill="#2aec1a"/>
<line x1="419.33" y1="1046.7" x2="419.33" y2="1058.7" stroke="#2aec1a" stroke-width="1.6" />
<line x1="416.93" y1="1046.7" x2="421.73" y2="1046.7" stroke="#2aec1a" stroke-width="1.6" />
<line x1="416.93" y1="1058.7" x2="421.73" y2="1058.7" stroke="#2aec1a" stroke-width="1.6" />
<circle cx="419.33" cy="1052.7" r="3.5" fill="#2aec1a"/>
<line x1="425.45" y1="1025.8" x2="425.45" y2="1037.8" stroke="#2aec1a" stroke-width="1.6" />
<line x1="423.05" y1="1025.8" x2="427.85" y2="1025.8" stroke="#2aec1a" stroke-width="1.6" />
<line x1="423.05" y1="1037.8" x2="427.85" y2="1037.8" stroke="#2aec1a" stroke-width="1.6" />
<circle cx="425.45" cy="1031.8" r="3.5" fill="#2aec1a"/>
<circle cx="437.68" cy="1051.2" r="3.5" fill="#2aec1a"/>
<circle cx="443.8" cy="1045.9" r="3.5" fill="#2aec1a"/>
<circle cx="449.92" cy="1042.8" r="3.5" fill="#2aec1a"/>
<circle cx="456.03" cy="1047.2" r="3.5" fill="#2aec1a"/>
<circle cx="462.15" cy="1049" r="3.5" fill="#2aec1a"/>
<circle cx="468.27" cy="1041.9" r="3.5" fill="#2aec1a"/>
<circle cx="474.39" cy="1047.2" r="3.5" fill="#2aec1a"/>
<circle cx="486.62" cy="1046.5" r="3.5" fill="#2aec1a"/>
<circle cx="498.86" cy="1045" r="3.5" fill="#2aec1a"/>
<line x1="96.4" y1="1046.6" x2="515.6" y2="1046.6" stroke="#000" stroke-width="1.8" stroke-dasharray="6.5 6.96"/>
<text x="479.8" y="797.3" font-family="Liberation Sans, Arial, sans-serif" font-size="23" font-weight="bold" text-anchor="middle" fill="#000" >(c)</text>
<text transform="translate(34.8,118.7) rotate(-90)" font-family="Liberation Sans, Arial, sans-serif" font-weight="bold" font-size="24.6" text-anchor="middle">0<tspan font-size="14" dy="-11">th</tspan><tspan dy="11"> Moment</tspan></text>
<text transform="translate(33.5,508.0) rotate(-90)" font-family="Liberation Sans, Arial, sans-serif" font-weight="bold" font-size="24.6" text-anchor="middle">1<tspan font-size="14" dy="-11">st</tspan><tspan dy="11"> Moment</tspan></text>
<text transform="translate(40.7,889.6) rotate(-90)" font-family="Liberation Sans, Arial, sans-serif" font-weight="bold" font-size="24.6" text-anchor="middle">2<tspan font-size="14" dy="-11">nd</tspan><tspan dy="11"> Moment</tspan></text>
<text transform="translate(33.8,279.2) rotate(-90)" font-family="Liberation Serif, Times New Roman, serif" font-size="23.7" text-anchor="middle">&#916;</text>
<text transform="translate(33.8,661) rotate(-90)" font-family="Liberation Serif, Times New Roman, serif" font-size="23.7" text-anchor="middle">&#916;</text>
<text transform="translate(33.8,1047.6) rotate(-90)" font-family="Liberation Serif, Times New Roman, serif" font-size="23.7" text-anchor="middle">&#916;</text>
</svg>
</body></html>
